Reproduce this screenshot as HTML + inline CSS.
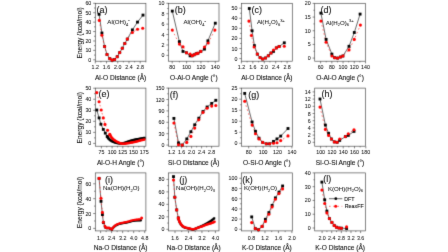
<!DOCTYPE html>
<html><head><meta charset="utf-8"><style>
html,body{margin:0;padding:0;background:#fff;width:448px;height:252px;overflow:hidden}
svg{display:block}
text{font-family:'Liberation Sans', Arial, sans-serif;fill:#111;stroke:#111;stroke-width:0.1px}
</style></head><body>
<svg width="448" height="252" viewBox="0 0 448 252">
<defs><filter id="soft" filterUnits="userSpaceOnUse" x="0" y="0" width="448" height="252" color-interpolation-filters="sRGB"><feConvolveMatrix order="3" kernelMatrix="0.0144 0.0912 0.0144 0.0912 0.5776 0.0912 0.0144 0.0912 0.0144" divisor="1" edgeMode="duplicate"/></filter><filter id="softt" filterUnits="userSpaceOnUse" x="0" y="0" width="448" height="252" color-interpolation-filters="sRGB"><feConvolveMatrix order="3" kernelMatrix="0.0049 0.0602 0.0049 0.0602 0.7396 0.0602 0.0049 0.0602 0.0049" divisor="1" edgeMode="none" preserveAlpha="false"/></filter></defs>
<rect width="448" height="252" fill="#fff"/>
<g filter="url(#soft)"><rect width="448" height="252" fill="#fff"/>
<rect x="95.3" y="3.3" width="50.60" height="57.90" fill="none" stroke="#444" stroke-width="0.65"/>
<line x1="95.30" y1="61.2" x2="95.30" y2="63.40" stroke="#444" stroke-width="0.65"/>
<line x1="106.53" y1="61.2" x2="106.53" y2="63.40" stroke="#444" stroke-width="0.65"/>
<line x1="117.75" y1="61.2" x2="117.75" y2="63.40" stroke="#444" stroke-width="0.65"/>
<line x1="128.97" y1="61.2" x2="128.97" y2="63.40" stroke="#444" stroke-width="0.65"/>
<line x1="140.20" y1="61.2" x2="140.20" y2="63.40" stroke="#444" stroke-width="0.65"/>
<line x1="100.91" y1="61.2" x2="100.91" y2="62.40" stroke="#444" stroke-width="0.65"/>
<line x1="112.14" y1="61.2" x2="112.14" y2="62.40" stroke="#444" stroke-width="0.65"/>
<line x1="123.36" y1="61.2" x2="123.36" y2="62.40" stroke="#444" stroke-width="0.65"/>
<line x1="134.59" y1="61.2" x2="134.59" y2="62.40" stroke="#444" stroke-width="0.65"/>
<line x1="145.81" y1="61.2" x2="145.81" y2="62.40" stroke="#444" stroke-width="0.65"/>
<line x1="93.20" y1="59.80" x2="95.3" y2="59.80" stroke="#444" stroke-width="0.65"/>
<line x1="93.20" y1="50.38" x2="95.3" y2="50.38" stroke="#444" stroke-width="0.65"/>
<line x1="93.20" y1="40.97" x2="95.3" y2="40.97" stroke="#444" stroke-width="0.65"/>
<line x1="93.20" y1="31.55" x2="95.3" y2="31.55" stroke="#444" stroke-width="0.65"/>
<line x1="93.20" y1="22.13" x2="95.3" y2="22.13" stroke="#444" stroke-width="0.65"/>
<line x1="93.20" y1="12.72" x2="95.3" y2="12.72" stroke="#444" stroke-width="0.65"/>
<line x1="93.20" y1="3.30" x2="95.3" y2="3.30" stroke="#444" stroke-width="0.65"/>
<line x1="94.00" y1="55.09" x2="95.3" y2="55.09" stroke="#444" stroke-width="0.65"/>
<line x1="94.00" y1="45.67" x2="95.3" y2="45.67" stroke="#444" stroke-width="0.65"/>
<line x1="94.00" y1="36.26" x2="95.3" y2="36.26" stroke="#444" stroke-width="0.65"/>
<line x1="94.00" y1="26.84" x2="95.3" y2="26.84" stroke="#444" stroke-width="0.65"/>
<line x1="94.00" y1="17.42" x2="95.3" y2="17.42" stroke="#444" stroke-width="0.65"/>
<line x1="94.00" y1="8.01" x2="95.3" y2="8.01" stroke="#444" stroke-width="0.65"/>
<polyline points="99.10,14.30 101.90,33.00 104.60,46.50 107.00,54.50 109.80,58.60 112.10,60.10 114.60,59.50 117.20,56.70 119.70,52.60 122.30,48.20 124.80,43.50 127.30,39.10 132.40,29.90 137.50,22.10 143.00,15.10" fill="none" stroke="#000" stroke-width="0.6"/>
<polyline points="99.30,20.40 101.90,35.30 104.60,46.50 107.00,54.50 109.80,58.60 112.10,60.10 114.60,59.50 117.20,56.70 119.70,52.60 122.30,48.20 124.80,43.50 127.30,39.10 132.40,32.50 137.50,29.30 142.70,28.30" fill="none" stroke="#f22" stroke-width="0.65" stroke-dasharray="1.6,2.6"/>
<rect x="97.67" y="12.88" width="2.85" height="2.85" fill="#000"/>
<rect x="100.48" y="31.57" width="2.85" height="2.85" fill="#000"/>
<rect x="103.17" y="45.08" width="2.85" height="2.85" fill="#000"/>
<rect x="105.58" y="53.08" width="2.85" height="2.85" fill="#000"/>
<rect x="108.38" y="57.18" width="2.85" height="2.85" fill="#000"/>
<rect x="110.67" y="58.68" width="2.85" height="2.85" fill="#000"/>
<rect x="113.17" y="58.08" width="2.85" height="2.85" fill="#000"/>
<rect x="115.78" y="55.28" width="2.85" height="2.85" fill="#000"/>
<rect x="118.28" y="51.18" width="2.85" height="2.85" fill="#000"/>
<rect x="120.88" y="46.78" width="2.85" height="2.85" fill="#000"/>
<rect x="123.38" y="42.08" width="2.85" height="2.85" fill="#000"/>
<rect x="125.88" y="37.68" width="2.85" height="2.85" fill="#000"/>
<rect x="130.97" y="28.47" width="2.85" height="2.85" fill="#000"/>
<rect x="136.07" y="20.68" width="2.85" height="2.85" fill="#000"/>
<rect x="141.57" y="13.67" width="2.85" height="2.85" fill="#000"/>
<circle cx="99.30" cy="20.40" r="1.55" fill="#f00"/>
<circle cx="101.90" cy="35.30" r="1.55" fill="#f00"/>
<circle cx="104.60" cy="46.50" r="1.55" fill="#f00"/>
<circle cx="107.00" cy="54.50" r="1.55" fill="#f00"/>
<circle cx="109.80" cy="58.60" r="1.55" fill="#f00"/>
<circle cx="112.10" cy="60.10" r="1.55" fill="#f00"/>
<circle cx="114.60" cy="59.50" r="1.55" fill="#f00"/>
<circle cx="117.20" cy="56.70" r="1.55" fill="#f00"/>
<circle cx="119.70" cy="52.60" r="1.55" fill="#f00"/>
<circle cx="122.30" cy="48.20" r="1.55" fill="#f00"/>
<circle cx="124.80" cy="43.50" r="1.55" fill="#f00"/>
<circle cx="127.30" cy="39.10" r="1.55" fill="#f00"/>
<circle cx="132.40" cy="32.50" r="1.55" fill="#f00"/>
<circle cx="137.50" cy="29.30" r="1.55" fill="#f00"/>
<circle cx="142.70" cy="28.30" r="1.55" fill="#f00"/>
<rect x="168.5" y="3.3" width="50.50" height="57.90" fill="none" stroke="#444" stroke-width="0.65"/>
<line x1="172.20" y1="61.2" x2="172.20" y2="63.40" stroke="#444" stroke-width="0.65"/>
<line x1="186.57" y1="61.2" x2="186.57" y2="63.40" stroke="#444" stroke-width="0.65"/>
<line x1="200.93" y1="61.2" x2="200.93" y2="63.40" stroke="#444" stroke-width="0.65"/>
<line x1="215.30" y1="61.2" x2="215.30" y2="63.40" stroke="#444" stroke-width="0.65"/>
<line x1="179.38" y1="61.2" x2="179.38" y2="62.40" stroke="#444" stroke-width="0.65"/>
<line x1="193.75" y1="61.2" x2="193.75" y2="62.40" stroke="#444" stroke-width="0.65"/>
<line x1="208.12" y1="61.2" x2="208.12" y2="62.40" stroke="#444" stroke-width="0.65"/>
<line x1="166.40" y1="55.40" x2="168.5" y2="55.40" stroke="#444" stroke-width="0.65"/>
<line x1="166.40" y1="44.98" x2="168.5" y2="44.98" stroke="#444" stroke-width="0.65"/>
<line x1="166.40" y1="34.56" x2="168.5" y2="34.56" stroke="#444" stroke-width="0.65"/>
<line x1="166.40" y1="24.14" x2="168.5" y2="24.14" stroke="#444" stroke-width="0.65"/>
<line x1="166.40" y1="13.72" x2="168.5" y2="13.72" stroke="#444" stroke-width="0.65"/>
<line x1="166.40" y1="3.30" x2="168.5" y2="3.30" stroke="#444" stroke-width="0.65"/>
<line x1="167.20" y1="50.19" x2="168.5" y2="50.19" stroke="#444" stroke-width="0.65"/>
<line x1="167.20" y1="39.77" x2="168.5" y2="39.77" stroke="#444" stroke-width="0.65"/>
<line x1="167.20" y1="29.35" x2="168.5" y2="29.35" stroke="#444" stroke-width="0.65"/>
<line x1="167.20" y1="18.93" x2="168.5" y2="18.93" stroke="#444" stroke-width="0.65"/>
<line x1="167.20" y1="8.51" x2="168.5" y2="8.51" stroke="#444" stroke-width="0.65"/>
<polyline points="172.30,11.10 179.40,41.60 183.00,51.40 186.50,52.80 190.10,55.80 192.10,55.80 194.10,54.80 196.20,53.70 197.90,53.20 200.80,51.40 204.50,49.10 207.90,40.80 215.30,23.20" fill="none" stroke="#000" stroke-width="0.6"/>
<polyline points="172.30,30.10 179.40,44.10 183.00,46.70 186.50,52.80 190.10,54.10 192.10,55.80 194.10,54.80 196.20,53.70 197.90,53.20 200.80,51.40 204.50,47.00 208.20,43.00 214.90,30.10" fill="none" stroke="#f22" stroke-width="0.65" stroke-dasharray="1.6,2.6"/>
<rect x="170.88" y="9.67" width="2.85" height="2.85" fill="#000"/>
<rect x="177.97" y="40.18" width="2.85" height="2.85" fill="#000"/>
<rect x="181.57" y="49.98" width="2.85" height="2.85" fill="#000"/>
<rect x="185.07" y="51.38" width="2.85" height="2.85" fill="#000"/>
<rect x="188.67" y="54.38" width="2.85" height="2.85" fill="#000"/>
<rect x="190.67" y="54.38" width="2.85" height="2.85" fill="#000"/>
<rect x="192.67" y="53.38" width="2.85" height="2.85" fill="#000"/>
<rect x="194.77" y="52.28" width="2.85" height="2.85" fill="#000"/>
<rect x="196.47" y="51.78" width="2.85" height="2.85" fill="#000"/>
<rect x="199.38" y="49.98" width="2.85" height="2.85" fill="#000"/>
<rect x="203.07" y="47.68" width="2.85" height="2.85" fill="#000"/>
<rect x="206.47" y="39.38" width="2.85" height="2.85" fill="#000"/>
<rect x="213.88" y="21.77" width="2.85" height="2.85" fill="#000"/>
<circle cx="172.30" cy="30.10" r="1.55" fill="#f00"/>
<circle cx="179.40" cy="44.10" r="1.55" fill="#f00"/>
<circle cx="183.00" cy="46.70" r="1.55" fill="#f00"/>
<circle cx="186.50" cy="52.80" r="1.55" fill="#f00"/>
<circle cx="190.10" cy="54.10" r="1.55" fill="#f00"/>
<circle cx="192.10" cy="55.80" r="1.55" fill="#f00"/>
<circle cx="194.10" cy="54.80" r="1.55" fill="#f00"/>
<circle cx="196.20" cy="53.70" r="1.55" fill="#f00"/>
<circle cx="197.90" cy="53.20" r="1.55" fill="#f00"/>
<circle cx="200.80" cy="51.40" r="1.55" fill="#f00"/>
<circle cx="204.50" cy="47.00" r="1.55" fill="#f00"/>
<circle cx="208.20" cy="43.00" r="1.55" fill="#f00"/>
<circle cx="214.90" cy="30.10" r="1.55" fill="#f00"/>
<rect x="241.4" y="3.3" width="50.90" height="57.90" fill="none" stroke="#444" stroke-width="0.65"/>
<line x1="241.40" y1="61.2" x2="241.40" y2="63.40" stroke="#444" stroke-width="0.65"/>
<line x1="252.83" y1="61.2" x2="252.83" y2="63.40" stroke="#444" stroke-width="0.65"/>
<line x1="264.25" y1="61.2" x2="264.25" y2="63.40" stroke="#444" stroke-width="0.65"/>
<line x1="275.68" y1="61.2" x2="275.68" y2="63.40" stroke="#444" stroke-width="0.65"/>
<line x1="287.10" y1="61.2" x2="287.10" y2="63.40" stroke="#444" stroke-width="0.65"/>
<line x1="247.11" y1="61.2" x2="247.11" y2="62.40" stroke="#444" stroke-width="0.65"/>
<line x1="258.54" y1="61.2" x2="258.54" y2="62.40" stroke="#444" stroke-width="0.65"/>
<line x1="269.96" y1="61.2" x2="269.96" y2="62.40" stroke="#444" stroke-width="0.65"/>
<line x1="281.39" y1="61.2" x2="281.39" y2="62.40" stroke="#444" stroke-width="0.65"/>
<line x1="239.30" y1="58.60" x2="241.4" y2="58.60" stroke="#444" stroke-width="0.65"/>
<line x1="239.30" y1="48.52" x2="241.4" y2="48.52" stroke="#444" stroke-width="0.65"/>
<line x1="239.30" y1="38.44" x2="241.4" y2="38.44" stroke="#444" stroke-width="0.65"/>
<line x1="239.30" y1="28.36" x2="241.4" y2="28.36" stroke="#444" stroke-width="0.65"/>
<line x1="239.30" y1="18.28" x2="241.4" y2="18.28" stroke="#444" stroke-width="0.65"/>
<line x1="239.30" y1="8.20" x2="241.4" y2="8.20" stroke="#444" stroke-width="0.65"/>
<line x1="240.10" y1="53.56" x2="241.4" y2="53.56" stroke="#444" stroke-width="0.65"/>
<line x1="240.10" y1="43.48" x2="241.4" y2="43.48" stroke="#444" stroke-width="0.65"/>
<line x1="240.10" y1="33.40" x2="241.4" y2="33.40" stroke="#444" stroke-width="0.65"/>
<line x1="240.10" y1="23.32" x2="241.4" y2="23.32" stroke="#444" stroke-width="0.65"/>
<line x1="240.10" y1="13.24" x2="241.4" y2="13.24" stroke="#444" stroke-width="0.65"/>
<polyline points="249.30,8.50 252.10,30.80 254.40,45.60 257.30,54.10 260.10,57.60 262.70,59.00 265.50,58.00 268.30,55.80 271.00,53.00 273.50,51.40 276.30,47.90 279.10,46.50 284.30,42.80" fill="none" stroke="#000" stroke-width="0.6"/>
<polyline points="248.90,21.10 251.40,35.50 254.10,47.00 257.30,54.10 260.10,57.60 262.70,59.00 265.50,58.00 268.30,55.80 271.00,53.00 273.50,50.00 276.30,47.90 279.10,46.50 284.30,46.30" fill="none" stroke="#f22" stroke-width="0.65" stroke-dasharray="1.6,2.6"/>
<rect x="247.88" y="7.08" width="2.85" height="2.85" fill="#000"/>
<rect x="250.67" y="29.38" width="2.85" height="2.85" fill="#000"/>
<rect x="252.97" y="44.18" width="2.85" height="2.85" fill="#000"/>
<rect x="255.88" y="52.68" width="2.85" height="2.85" fill="#000"/>
<rect x="258.68" y="56.18" width="2.85" height="2.85" fill="#000"/>
<rect x="261.27" y="57.58" width="2.85" height="2.85" fill="#000"/>
<rect x="264.07" y="56.58" width="2.85" height="2.85" fill="#000"/>
<rect x="266.88" y="54.38" width="2.85" height="2.85" fill="#000"/>
<rect x="269.57" y="51.58" width="2.85" height="2.85" fill="#000"/>
<rect x="272.07" y="49.98" width="2.85" height="2.85" fill="#000"/>
<rect x="274.88" y="46.48" width="2.85" height="2.85" fill="#000"/>
<rect x="277.68" y="45.08" width="2.85" height="2.85" fill="#000"/>
<rect x="282.88" y="41.38" width="2.85" height="2.85" fill="#000"/>
<circle cx="248.90" cy="21.10" r="1.55" fill="#f00"/>
<circle cx="251.40" cy="35.50" r="1.55" fill="#f00"/>
<circle cx="254.10" cy="47.00" r="1.55" fill="#f00"/>
<circle cx="257.30" cy="54.10" r="1.55" fill="#f00"/>
<circle cx="260.10" cy="57.60" r="1.55" fill="#f00"/>
<circle cx="262.70" cy="59.00" r="1.55" fill="#f00"/>
<circle cx="265.50" cy="58.00" r="1.55" fill="#f00"/>
<circle cx="268.30" cy="55.80" r="1.55" fill="#f00"/>
<circle cx="271.00" cy="53.00" r="1.55" fill="#f00"/>
<circle cx="273.50" cy="50.00" r="1.55" fill="#f00"/>
<circle cx="276.30" cy="47.90" r="1.55" fill="#f00"/>
<circle cx="279.10" cy="46.50" r="1.55" fill="#f00"/>
<circle cx="284.30" cy="46.30" r="1.55" fill="#f00"/>
<rect x="314.7" y="3.3" width="50.80" height="57.90" fill="none" stroke="#444" stroke-width="0.65"/>
<line x1="320.60" y1="61.2" x2="320.60" y2="63.40" stroke="#444" stroke-width="0.65"/>
<line x1="331.83" y1="61.2" x2="331.83" y2="63.40" stroke="#444" stroke-width="0.65"/>
<line x1="343.05" y1="61.2" x2="343.05" y2="63.40" stroke="#444" stroke-width="0.65"/>
<line x1="354.27" y1="61.2" x2="354.27" y2="63.40" stroke="#444" stroke-width="0.65"/>
<line x1="365.50" y1="61.2" x2="365.50" y2="63.40" stroke="#444" stroke-width="0.65"/>
<line x1="326.21" y1="61.2" x2="326.21" y2="62.40" stroke="#444" stroke-width="0.65"/>
<line x1="337.44" y1="61.2" x2="337.44" y2="62.40" stroke="#444" stroke-width="0.65"/>
<line x1="348.66" y1="61.2" x2="348.66" y2="62.40" stroke="#444" stroke-width="0.65"/>
<line x1="359.89" y1="61.2" x2="359.89" y2="62.40" stroke="#444" stroke-width="0.65"/>
<line x1="312.60" y1="58.10" x2="314.7" y2="58.10" stroke="#444" stroke-width="0.65"/>
<line x1="312.60" y1="44.42" x2="314.7" y2="44.42" stroke="#444" stroke-width="0.65"/>
<line x1="312.60" y1="30.75" x2="314.7" y2="30.75" stroke="#444" stroke-width="0.65"/>
<line x1="312.60" y1="17.07" x2="314.7" y2="17.07" stroke="#444" stroke-width="0.65"/>
<line x1="312.60" y1="3.40" x2="314.7" y2="3.40" stroke="#444" stroke-width="0.65"/>
<line x1="313.40" y1="51.26" x2="314.7" y2="51.26" stroke="#444" stroke-width="0.65"/>
<line x1="313.40" y1="37.59" x2="314.7" y2="37.59" stroke="#444" stroke-width="0.65"/>
<line x1="313.40" y1="23.91" x2="314.7" y2="23.91" stroke="#444" stroke-width="0.65"/>
<line x1="313.40" y1="10.24" x2="314.7" y2="10.24" stroke="#444" stroke-width="0.65"/>
<polyline points="320.90,13.10 326.10,39.40 331.90,54.10 334.70,57.70 337.60,58.10 340.40,57.00 342.90,56.00 349.00,46.30 354.30,32.50 360.10,14.10" fill="none" stroke="#000" stroke-width="0.6"/>
<polyline points="320.90,21.00 326.10,42.30 331.90,56.00 334.70,57.70 337.60,58.10 340.40,57.00 342.90,56.00 349.00,49.90 354.30,39.40 360.40,25.10" fill="none" stroke="#f22" stroke-width="0.65" stroke-dasharray="1.6,2.6"/>
<rect x="319.47" y="11.67" width="2.85" height="2.85" fill="#000"/>
<rect x="324.68" y="37.98" width="2.85" height="2.85" fill="#000"/>
<rect x="330.47" y="52.68" width="2.85" height="2.85" fill="#000"/>
<rect x="333.27" y="56.28" width="2.85" height="2.85" fill="#000"/>
<rect x="336.18" y="56.68" width="2.85" height="2.85" fill="#000"/>
<rect x="338.97" y="55.58" width="2.85" height="2.85" fill="#000"/>
<rect x="341.47" y="54.58" width="2.85" height="2.85" fill="#000"/>
<rect x="347.57" y="44.88" width="2.85" height="2.85" fill="#000"/>
<rect x="352.88" y="31.07" width="2.85" height="2.85" fill="#000"/>
<rect x="358.68" y="12.67" width="2.85" height="2.85" fill="#000"/>
<circle cx="320.90" cy="21.00" r="1.55" fill="#f00"/>
<circle cx="326.10" cy="42.30" r="1.55" fill="#f00"/>
<circle cx="331.90" cy="56.00" r="1.55" fill="#f00"/>
<circle cx="334.70" cy="57.70" r="1.55" fill="#f00"/>
<circle cx="337.60" cy="58.10" r="1.55" fill="#f00"/>
<circle cx="340.40" cy="57.00" r="1.55" fill="#f00"/>
<circle cx="342.90" cy="56.00" r="1.55" fill="#f00"/>
<circle cx="349.00" cy="49.90" r="1.55" fill="#f00"/>
<circle cx="354.30" cy="39.40" r="1.55" fill="#f00"/>
<circle cx="360.40" cy="25.10" r="1.55" fill="#f00"/>
<rect x="95.3" y="88.1" width="50.60" height="58.10" fill="none" stroke="#444" stroke-width="0.65"/>
<line x1="101.40" y1="146.2" x2="101.40" y2="148.40" stroke="#444" stroke-width="0.65"/>
<line x1="112.10" y1="146.2" x2="112.10" y2="148.40" stroke="#444" stroke-width="0.65"/>
<line x1="122.80" y1="146.2" x2="122.80" y2="148.40" stroke="#444" stroke-width="0.65"/>
<line x1="133.50" y1="146.2" x2="133.50" y2="148.40" stroke="#444" stroke-width="0.65"/>
<line x1="144.20" y1="146.2" x2="144.20" y2="148.40" stroke="#444" stroke-width="0.65"/>
<line x1="106.75" y1="146.2" x2="106.75" y2="147.40" stroke="#444" stroke-width="0.65"/>
<line x1="117.45" y1="146.2" x2="117.45" y2="147.40" stroke="#444" stroke-width="0.65"/>
<line x1="128.15" y1="146.2" x2="128.15" y2="147.40" stroke="#444" stroke-width="0.65"/>
<line x1="138.85" y1="146.2" x2="138.85" y2="147.40" stroke="#444" stroke-width="0.65"/>
<line x1="93.20" y1="143.40" x2="95.3" y2="143.40" stroke="#444" stroke-width="0.65"/>
<line x1="93.20" y1="132.36" x2="95.3" y2="132.36" stroke="#444" stroke-width="0.65"/>
<line x1="93.20" y1="121.32" x2="95.3" y2="121.32" stroke="#444" stroke-width="0.65"/>
<line x1="93.20" y1="110.28" x2="95.3" y2="110.28" stroke="#444" stroke-width="0.65"/>
<line x1="93.20" y1="99.24" x2="95.3" y2="99.24" stroke="#444" stroke-width="0.65"/>
<line x1="93.20" y1="88.20" x2="95.3" y2="88.20" stroke="#444" stroke-width="0.65"/>
<line x1="94.00" y1="137.88" x2="95.3" y2="137.88" stroke="#444" stroke-width="0.65"/>
<line x1="94.00" y1="126.84" x2="95.3" y2="126.84" stroke="#444" stroke-width="0.65"/>
<line x1="94.00" y1="115.80" x2="95.3" y2="115.80" stroke="#444" stroke-width="0.65"/>
<line x1="94.00" y1="104.76" x2="95.3" y2="104.76" stroke="#444" stroke-width="0.65"/>
<line x1="94.00" y1="93.72" x2="95.3" y2="93.72" stroke="#444" stroke-width="0.65"/>
<polyline points="96.80,110.00 99.10,117.90 100.90,124.20 103.30,129.40 105.30,133.10 107.20,136.40 107.20,136.40 107.64,137.25 108.16,138.03 108.75,138.75 109.42,139.40 110.14,140.00 110.91,140.55 111.72,141.04 112.57,141.47 113.43,141.85 114.31,142.19 115.20,142.48 116.10,142.73 117.01,142.94 117.94,143.13 118.87,143.28 119.81,143.39 120.75,143.45 121.68,143.44 122.61,143.35 123.52,143.19 124.43,142.96 125.33,142.68 126.22,142.38 127.11,142.05 128.00,141.73 128.89,141.42 129.78,141.12 130.67,140.83 131.57,140.56 132.47,140.31 133.37,140.08 134.28,139.87 135.20,139.68 136.12,139.50 137.04,139.33 137.96,139.16 138.89,139.00 139.81,138.84 140.74,138.67 141.66,138.50 142.58,138.32 143.49,138.12 144.40,137.90" fill="none" stroke="#000" stroke-width="0.6"/>
<polyline points="96.80,92.60 99.10,101.70 101.20,110.00 103.30,117.90 105.00,124.40 107.60,130.20 109.80,134.40 109.80,134.40 110.17,135.25 110.60,136.05 111.08,136.80 111.62,137.51 112.21,138.17 112.84,138.80 113.51,139.40 114.22,139.96 114.95,140.49 115.71,141.00 116.50,141.48 117.30,141.94 118.11,142.37 118.94,142.76 119.78,143.10 120.63,143.38 121.50,143.59 122.37,143.72 123.26,143.76 124.15,143.73 125.05,143.65 125.95,143.52 126.85,143.37 127.75,143.21 128.65,143.05 129.53,142.89 130.42,142.74 131.30,142.58 132.18,142.42 133.06,142.25 133.94,142.07 134.82,141.88 135.70,141.68 136.57,141.48 137.45,141.27 138.32,141.05 139.20,140.82 140.07,140.59 140.94,140.36 141.81,140.12 142.67,139.88 143.54,139.64 144.40,139.40" fill="none" stroke="#f22" stroke-width="0.65" stroke-dasharray="1.6,2.6"/>
<rect x="95.38" y="108.58" width="2.85" height="2.85" fill="#000"/>
<rect x="97.67" y="116.48" width="2.85" height="2.85" fill="#000"/>
<rect x="99.48" y="122.78" width="2.85" height="2.85" fill="#000"/>
<rect x="101.88" y="127.98" width="2.85" height="2.85" fill="#000"/>
<rect x="103.88" y="131.67" width="2.85" height="2.85" fill="#000"/>
<rect x="105.78" y="134.97" width="2.85" height="2.85" fill="#000"/>
<rect x="106.05" y="135.25" width="2.30" height="2.30" fill="#000"/>
<rect x="106.49" y="136.10" width="2.30" height="2.30" fill="#000"/>
<rect x="107.01" y="136.88" width="2.30" height="2.30" fill="#000"/>
<rect x="107.60" y="137.60" width="2.30" height="2.30" fill="#000"/>
<rect x="108.27" y="138.25" width="2.30" height="2.30" fill="#000"/>
<rect x="108.99" y="138.85" width="2.30" height="2.30" fill="#000"/>
<rect x="109.76" y="139.40" width="2.30" height="2.30" fill="#000"/>
<rect x="110.57" y="139.89" width="2.30" height="2.30" fill="#000"/>
<rect x="111.42" y="140.32" width="2.30" height="2.30" fill="#000"/>
<rect x="112.28" y="140.70" width="2.30" height="2.30" fill="#000"/>
<rect x="113.16" y="141.04" width="2.30" height="2.30" fill="#000"/>
<rect x="114.05" y="141.33" width="2.30" height="2.30" fill="#000"/>
<rect x="114.95" y="141.58" width="2.30" height="2.30" fill="#000"/>
<rect x="115.86" y="141.79" width="2.30" height="2.30" fill="#000"/>
<rect x="116.79" y="141.98" width="2.30" height="2.30" fill="#000"/>
<rect x="117.72" y="142.13" width="2.30" height="2.30" fill="#000"/>
<rect x="118.66" y="142.24" width="2.30" height="2.30" fill="#000"/>
<rect x="119.60" y="142.30" width="2.30" height="2.30" fill="#000"/>
<rect x="120.53" y="142.29" width="2.30" height="2.30" fill="#000"/>
<rect x="121.46" y="142.20" width="2.30" height="2.30" fill="#000"/>
<rect x="122.37" y="142.04" width="2.30" height="2.30" fill="#000"/>
<rect x="123.28" y="141.81" width="2.30" height="2.30" fill="#000"/>
<rect x="124.18" y="141.53" width="2.30" height="2.30" fill="#000"/>
<rect x="125.07" y="141.23" width="2.30" height="2.30" fill="#000"/>
<rect x="125.96" y="140.90" width="2.30" height="2.30" fill="#000"/>
<rect x="126.85" y="140.58" width="2.30" height="2.30" fill="#000"/>
<rect x="127.74" y="140.27" width="2.30" height="2.30" fill="#000"/>
<rect x="128.63" y="139.97" width="2.30" height="2.30" fill="#000"/>
<rect x="129.52" y="139.68" width="2.30" height="2.30" fill="#000"/>
<rect x="130.42" y="139.41" width="2.30" height="2.30" fill="#000"/>
<rect x="131.32" y="139.16" width="2.30" height="2.30" fill="#000"/>
<rect x="132.22" y="138.93" width="2.30" height="2.30" fill="#000"/>
<rect x="133.13" y="138.72" width="2.30" height="2.30" fill="#000"/>
<rect x="134.05" y="138.53" width="2.30" height="2.30" fill="#000"/>
<rect x="134.97" y="138.35" width="2.30" height="2.30" fill="#000"/>
<rect x="135.89" y="138.18" width="2.30" height="2.30" fill="#000"/>
<rect x="136.81" y="138.01" width="2.30" height="2.30" fill="#000"/>
<rect x="137.74" y="137.85" width="2.30" height="2.30" fill="#000"/>
<rect x="138.66" y="137.69" width="2.30" height="2.30" fill="#000"/>
<rect x="139.59" y="137.52" width="2.30" height="2.30" fill="#000"/>
<rect x="140.51" y="137.35" width="2.30" height="2.30" fill="#000"/>
<rect x="141.43" y="137.17" width="2.30" height="2.30" fill="#000"/>
<rect x="142.34" y="136.97" width="2.30" height="2.30" fill="#000"/>
<rect x="143.25" y="136.75" width="2.30" height="2.30" fill="#000"/>
<circle cx="96.80" cy="92.60" r="1.55" fill="#f00"/>
<circle cx="99.10" cy="101.70" r="1.55" fill="#f00"/>
<circle cx="101.20" cy="110.00" r="1.55" fill="#f00"/>
<circle cx="103.30" cy="117.90" r="1.55" fill="#f00"/>
<circle cx="105.00" cy="124.40" r="1.55" fill="#f00"/>
<circle cx="107.60" cy="130.20" r="1.55" fill="#f00"/>
<circle cx="109.80" cy="134.40" r="1.55" fill="#f00"/>
<circle cx="109.80" cy="134.40" r="1.25" fill="#f00"/>
<circle cx="110.17" cy="135.25" r="1.25" fill="#f00"/>
<circle cx="110.60" cy="136.05" r="1.25" fill="#f00"/>
<circle cx="111.08" cy="136.80" r="1.25" fill="#f00"/>
<circle cx="111.62" cy="137.51" r="1.25" fill="#f00"/>
<circle cx="112.21" cy="138.17" r="1.25" fill="#f00"/>
<circle cx="112.84" cy="138.80" r="1.25" fill="#f00"/>
<circle cx="113.51" cy="139.40" r="1.25" fill="#f00"/>
<circle cx="114.22" cy="139.96" r="1.25" fill="#f00"/>
<circle cx="114.95" cy="140.49" r="1.25" fill="#f00"/>
<circle cx="115.71" cy="141.00" r="1.25" fill="#f00"/>
<circle cx="116.50" cy="141.48" r="1.25" fill="#f00"/>
<circle cx="117.30" cy="141.94" r="1.25" fill="#f00"/>
<circle cx="118.11" cy="142.37" r="1.25" fill="#f00"/>
<circle cx="118.94" cy="142.76" r="1.25" fill="#f00"/>
<circle cx="119.78" cy="143.10" r="1.25" fill="#f00"/>
<circle cx="120.63" cy="143.38" r="1.25" fill="#f00"/>
<circle cx="121.50" cy="143.59" r="1.25" fill="#f00"/>
<circle cx="122.37" cy="143.72" r="1.25" fill="#f00"/>
<circle cx="123.26" cy="143.76" r="1.25" fill="#f00"/>
<circle cx="124.15" cy="143.73" r="1.25" fill="#f00"/>
<circle cx="125.05" cy="143.65" r="1.25" fill="#f00"/>
<circle cx="125.95" cy="143.52" r="1.25" fill="#f00"/>
<circle cx="126.85" cy="143.37" r="1.25" fill="#f00"/>
<circle cx="127.75" cy="143.21" r="1.25" fill="#f00"/>
<circle cx="128.65" cy="143.05" r="1.25" fill="#f00"/>
<circle cx="129.53" cy="142.89" r="1.25" fill="#f00"/>
<circle cx="130.42" cy="142.74" r="1.25" fill="#f00"/>
<circle cx="131.30" cy="142.58" r="1.25" fill="#f00"/>
<circle cx="132.18" cy="142.42" r="1.25" fill="#f00"/>
<circle cx="133.06" cy="142.25" r="1.25" fill="#f00"/>
<circle cx="133.94" cy="142.07" r="1.25" fill="#f00"/>
<circle cx="134.82" cy="141.88" r="1.25" fill="#f00"/>
<circle cx="135.70" cy="141.68" r="1.25" fill="#f00"/>
<circle cx="136.57" cy="141.48" r="1.25" fill="#f00"/>
<circle cx="137.45" cy="141.27" r="1.25" fill="#f00"/>
<circle cx="138.32" cy="141.05" r="1.25" fill="#f00"/>
<circle cx="139.20" cy="140.82" r="1.25" fill="#f00"/>
<circle cx="140.07" cy="140.59" r="1.25" fill="#f00"/>
<circle cx="140.94" cy="140.36" r="1.25" fill="#f00"/>
<circle cx="141.81" cy="140.12" r="1.25" fill="#f00"/>
<circle cx="142.67" cy="139.88" r="1.25" fill="#f00"/>
<circle cx="143.54" cy="139.64" r="1.25" fill="#f00"/>
<circle cx="144.40" cy="139.40" r="1.25" fill="#f00"/>
<rect x="168.5" y="88.1" width="50.50" height="58.10" fill="none" stroke="#444" stroke-width="0.65"/>
<line x1="171.60" y1="146.2" x2="171.60" y2="148.40" stroke="#444" stroke-width="0.65"/>
<line x1="181.60" y1="146.2" x2="181.60" y2="148.40" stroke="#444" stroke-width="0.65"/>
<line x1="191.60" y1="146.2" x2="191.60" y2="148.40" stroke="#444" stroke-width="0.65"/>
<line x1="201.60" y1="146.2" x2="201.60" y2="148.40" stroke="#444" stroke-width="0.65"/>
<line x1="211.60" y1="146.2" x2="211.60" y2="148.40" stroke="#444" stroke-width="0.65"/>
<line x1="176.60" y1="146.2" x2="176.60" y2="147.40" stroke="#444" stroke-width="0.65"/>
<line x1="186.60" y1="146.2" x2="186.60" y2="147.40" stroke="#444" stroke-width="0.65"/>
<line x1="196.60" y1="146.2" x2="196.60" y2="147.40" stroke="#444" stroke-width="0.65"/>
<line x1="206.60" y1="146.2" x2="206.60" y2="147.40" stroke="#444" stroke-width="0.65"/>
<line x1="166.40" y1="145.10" x2="168.5" y2="145.10" stroke="#444" stroke-width="0.65"/>
<line x1="166.40" y1="133.70" x2="168.5" y2="133.70" stroke="#444" stroke-width="0.65"/>
<line x1="166.40" y1="122.30" x2="168.5" y2="122.30" stroke="#444" stroke-width="0.65"/>
<line x1="166.40" y1="110.90" x2="168.5" y2="110.90" stroke="#444" stroke-width="0.65"/>
<line x1="166.40" y1="99.50" x2="168.5" y2="99.50" stroke="#444" stroke-width="0.65"/>
<line x1="166.40" y1="88.10" x2="168.5" y2="88.10" stroke="#444" stroke-width="0.65"/>
<line x1="167.20" y1="139.40" x2="168.5" y2="139.40" stroke="#444" stroke-width="0.65"/>
<line x1="167.20" y1="128.00" x2="168.5" y2="128.00" stroke="#444" stroke-width="0.65"/>
<line x1="167.20" y1="116.60" x2="168.5" y2="116.60" stroke="#444" stroke-width="0.65"/>
<line x1="167.20" y1="105.20" x2="168.5" y2="105.20" stroke="#444" stroke-width="0.65"/>
<line x1="167.20" y1="93.80" x2="168.5" y2="93.80" stroke="#444" stroke-width="0.65"/>
<polyline points="173.90,118.40 178.50,142.80 182.20,145.10 186.80,138.90 190.90,131.70 194.70,124.80 198.80,118.20 203.00,111.50 207.10,107.00 211.70,103.40 215.80,100.30" fill="none" stroke="#000" stroke-width="0.6"/>
<polyline points="173.90,123.00 178.50,144.70 182.20,145.10 186.80,142.40 190.90,136.40 194.70,128.10 198.80,119.80 203.00,112.40 207.10,108.20 211.70,106.10 215.80,105.50" fill="none" stroke="#f22" stroke-width="0.65" stroke-dasharray="1.6,2.6"/>
<rect x="172.47" y="116.98" width="2.85" height="2.85" fill="#000"/>
<rect x="177.07" y="141.38" width="2.85" height="2.85" fill="#000"/>
<rect x="180.77" y="143.67" width="2.85" height="2.85" fill="#000"/>
<rect x="185.38" y="137.47" width="2.85" height="2.85" fill="#000"/>
<rect x="189.47" y="130.27" width="2.85" height="2.85" fill="#000"/>
<rect x="193.27" y="123.38" width="2.85" height="2.85" fill="#000"/>
<rect x="197.38" y="116.78" width="2.85" height="2.85" fill="#000"/>
<rect x="201.57" y="110.08" width="2.85" height="2.85" fill="#000"/>
<rect x="205.67" y="105.58" width="2.85" height="2.85" fill="#000"/>
<rect x="210.27" y="101.98" width="2.85" height="2.85" fill="#000"/>
<rect x="214.38" y="98.88" width="2.85" height="2.85" fill="#000"/>
<circle cx="173.90" cy="123.00" r="1.55" fill="#f00"/>
<circle cx="178.50" cy="144.70" r="1.55" fill="#f00"/>
<circle cx="182.20" cy="145.10" r="1.55" fill="#f00"/>
<circle cx="186.80" cy="142.40" r="1.55" fill="#f00"/>
<circle cx="190.90" cy="136.40" r="1.55" fill="#f00"/>
<circle cx="194.70" cy="128.10" r="1.55" fill="#f00"/>
<circle cx="198.80" cy="119.80" r="1.55" fill="#f00"/>
<circle cx="203.00" cy="112.40" r="1.55" fill="#f00"/>
<circle cx="207.10" cy="108.20" r="1.55" fill="#f00"/>
<circle cx="211.70" cy="106.10" r="1.55" fill="#f00"/>
<circle cx="215.80" cy="105.50" r="1.55" fill="#f00"/>
<rect x="241.4" y="88.1" width="50.90" height="58.10" fill="none" stroke="#444" stroke-width="0.65"/>
<line x1="248.70" y1="146.2" x2="248.70" y2="148.40" stroke="#444" stroke-width="0.65"/>
<line x1="263.10" y1="146.2" x2="263.10" y2="148.40" stroke="#444" stroke-width="0.65"/>
<line x1="277.50" y1="146.2" x2="277.50" y2="148.40" stroke="#444" stroke-width="0.65"/>
<line x1="291.90" y1="146.2" x2="291.90" y2="148.40" stroke="#444" stroke-width="0.65"/>
<line x1="255.90" y1="146.2" x2="255.90" y2="147.40" stroke="#444" stroke-width="0.65"/>
<line x1="270.30" y1="146.2" x2="270.30" y2="147.40" stroke="#444" stroke-width="0.65"/>
<line x1="284.70" y1="146.2" x2="284.70" y2="147.40" stroke="#444" stroke-width="0.65"/>
<line x1="239.30" y1="143.30" x2="241.4" y2="143.30" stroke="#444" stroke-width="0.65"/>
<line x1="239.30" y1="132.28" x2="241.4" y2="132.28" stroke="#444" stroke-width="0.65"/>
<line x1="239.30" y1="121.26" x2="241.4" y2="121.26" stroke="#444" stroke-width="0.65"/>
<line x1="239.30" y1="110.24" x2="241.4" y2="110.24" stroke="#444" stroke-width="0.65"/>
<line x1="239.30" y1="99.22" x2="241.4" y2="99.22" stroke="#444" stroke-width="0.65"/>
<line x1="239.30" y1="88.20" x2="241.4" y2="88.20" stroke="#444" stroke-width="0.65"/>
<line x1="240.10" y1="137.79" x2="241.4" y2="137.79" stroke="#444" stroke-width="0.65"/>
<line x1="240.10" y1="126.77" x2="241.4" y2="126.77" stroke="#444" stroke-width="0.65"/>
<line x1="240.10" y1="115.75" x2="241.4" y2="115.75" stroke="#444" stroke-width="0.65"/>
<line x1="240.10" y1="104.73" x2="241.4" y2="104.73" stroke="#444" stroke-width="0.65"/>
<line x1="240.10" y1="93.71" x2="241.4" y2="93.71" stroke="#444" stroke-width="0.65"/>
<polyline points="244.70,93.40 252.10,122.00 255.50,131.30 259.00,138.20 262.70,142.40 266.30,143.80 269.60,143.80 273.50,141.40 277.00,138.90 280.70,136.10 288.00,128.50" fill="none" stroke="#000" stroke-width="0.6"/>
<polyline points="244.70,101.30 252.10,125.10 255.50,133.70 259.00,138.90 262.70,142.40 266.30,143.80 269.60,143.80 273.50,143.30 277.00,142.80 280.70,140.60 288.00,135.90" fill="none" stroke="#f22" stroke-width="0.65" stroke-dasharray="1.6,2.6"/>
<rect x="243.27" y="91.98" width="2.85" height="2.85" fill="#000"/>
<rect x="250.67" y="120.58" width="2.85" height="2.85" fill="#000"/>
<rect x="254.07" y="129.88" width="2.85" height="2.85" fill="#000"/>
<rect x="257.57" y="136.77" width="2.85" height="2.85" fill="#000"/>
<rect x="261.27" y="140.97" width="2.85" height="2.85" fill="#000"/>
<rect x="264.88" y="142.38" width="2.85" height="2.85" fill="#000"/>
<rect x="268.18" y="142.38" width="2.85" height="2.85" fill="#000"/>
<rect x="272.07" y="139.97" width="2.85" height="2.85" fill="#000"/>
<rect x="275.57" y="137.47" width="2.85" height="2.85" fill="#000"/>
<rect x="279.27" y="134.67" width="2.85" height="2.85" fill="#000"/>
<rect x="286.57" y="127.08" width="2.85" height="2.85" fill="#000"/>
<circle cx="244.70" cy="101.30" r="1.55" fill="#f00"/>
<circle cx="252.10" cy="125.10" r="1.55" fill="#f00"/>
<circle cx="255.50" cy="133.70" r="1.55" fill="#f00"/>
<circle cx="259.00" cy="138.90" r="1.55" fill="#f00"/>
<circle cx="262.70" cy="142.40" r="1.55" fill="#f00"/>
<circle cx="266.30" cy="143.80" r="1.55" fill="#f00"/>
<circle cx="269.60" cy="143.80" r="1.55" fill="#f00"/>
<circle cx="273.50" cy="143.30" r="1.55" fill="#f00"/>
<circle cx="277.00" cy="142.80" r="1.55" fill="#f00"/>
<circle cx="280.70" cy="140.60" r="1.55" fill="#f00"/>
<circle cx="288.00" cy="135.90" r="1.55" fill="#f00"/>
<rect x="314.7" y="88.1" width="50.80" height="58.10" fill="none" stroke="#444" stroke-width="0.65"/>
<line x1="320.60" y1="146.2" x2="320.60" y2="148.40" stroke="#444" stroke-width="0.65"/>
<line x1="331.90" y1="146.2" x2="331.90" y2="148.40" stroke="#444" stroke-width="0.65"/>
<line x1="343.20" y1="146.2" x2="343.20" y2="148.40" stroke="#444" stroke-width="0.65"/>
<line x1="354.50" y1="146.2" x2="354.50" y2="148.40" stroke="#444" stroke-width="0.65"/>
<line x1="365.80" y1="146.2" x2="365.80" y2="148.40" stroke="#444" stroke-width="0.65"/>
<line x1="326.25" y1="146.2" x2="326.25" y2="147.40" stroke="#444" stroke-width="0.65"/>
<line x1="337.55" y1="146.2" x2="337.55" y2="147.40" stroke="#444" stroke-width="0.65"/>
<line x1="348.85" y1="146.2" x2="348.85" y2="147.40" stroke="#444" stroke-width="0.65"/>
<line x1="360.15" y1="146.2" x2="360.15" y2="147.40" stroke="#444" stroke-width="0.65"/>
<line x1="312.60" y1="142.30" x2="314.7" y2="142.30" stroke="#444" stroke-width="0.65"/>
<line x1="312.60" y1="135.10" x2="314.7" y2="135.10" stroke="#444" stroke-width="0.65"/>
<line x1="312.60" y1="127.90" x2="314.7" y2="127.90" stroke="#444" stroke-width="0.65"/>
<line x1="312.60" y1="120.70" x2="314.7" y2="120.70" stroke="#444" stroke-width="0.65"/>
<line x1="312.60" y1="113.50" x2="314.7" y2="113.50" stroke="#444" stroke-width="0.65"/>
<line x1="312.60" y1="106.30" x2="314.7" y2="106.30" stroke="#444" stroke-width="0.65"/>
<line x1="312.60" y1="99.10" x2="314.7" y2="99.10" stroke="#444" stroke-width="0.65"/>
<line x1="312.60" y1="91.90" x2="314.7" y2="91.90" stroke="#444" stroke-width="0.65"/>
<line x1="313.40" y1="138.70" x2="314.7" y2="138.70" stroke="#444" stroke-width="0.65"/>
<line x1="313.40" y1="131.50" x2="314.7" y2="131.50" stroke="#444" stroke-width="0.65"/>
<line x1="313.40" y1="124.30" x2="314.7" y2="124.30" stroke="#444" stroke-width="0.65"/>
<line x1="313.40" y1="117.10" x2="314.7" y2="117.10" stroke="#444" stroke-width="0.65"/>
<line x1="313.40" y1="109.90" x2="314.7" y2="109.90" stroke="#444" stroke-width="0.65"/>
<line x1="313.40" y1="102.70" x2="314.7" y2="102.70" stroke="#444" stroke-width="0.65"/>
<line x1="313.40" y1="95.50" x2="314.7" y2="95.50" stroke="#444" stroke-width="0.65"/>
<polyline points="320.00,99.00 325.40,125.10 328.60,133.30 331.40,139.00 334.30,141.90 337.10,142.30 339.70,140.40 345.40,136.60 348.30,135.40 354.00,131.40" fill="none" stroke="#000" stroke-width="0.6"/>
<polyline points="320.00,107.10 325.40,129.40 328.60,135.40 331.40,139.00 334.30,141.90 337.10,142.30 339.70,139.00 345.40,136.60 348.30,133.70 354.00,129.70" fill="none" stroke="#f22" stroke-width="0.65" stroke-dasharray="1.6,2.6"/>
<rect x="318.57" y="97.58" width="2.85" height="2.85" fill="#000"/>
<rect x="323.97" y="123.67" width="2.85" height="2.85" fill="#000"/>
<rect x="327.18" y="131.88" width="2.85" height="2.85" fill="#000"/>
<rect x="329.97" y="137.57" width="2.85" height="2.85" fill="#000"/>
<rect x="332.88" y="140.47" width="2.85" height="2.85" fill="#000"/>
<rect x="335.68" y="140.88" width="2.85" height="2.85" fill="#000"/>
<rect x="338.27" y="138.97" width="2.85" height="2.85" fill="#000"/>
<rect x="343.97" y="135.17" width="2.85" height="2.85" fill="#000"/>
<rect x="346.88" y="133.97" width="2.85" height="2.85" fill="#000"/>
<rect x="352.57" y="129.97" width="2.85" height="2.85" fill="#000"/>
<circle cx="320.00" cy="107.10" r="1.55" fill="#f00"/>
<circle cx="325.40" cy="129.40" r="1.55" fill="#f00"/>
<circle cx="328.60" cy="135.40" r="1.55" fill="#f00"/>
<circle cx="331.40" cy="139.00" r="1.55" fill="#f00"/>
<circle cx="334.30" cy="141.90" r="1.55" fill="#f00"/>
<circle cx="337.10" cy="142.30" r="1.55" fill="#f00"/>
<circle cx="339.70" cy="139.00" r="1.55" fill="#f00"/>
<circle cx="345.40" cy="136.60" r="1.55" fill="#f00"/>
<circle cx="348.30" cy="133.70" r="1.55" fill="#f00"/>
<circle cx="354.00" cy="129.70" r="1.55" fill="#f00"/>
<rect x="95.3" y="172.9" width="50.60" height="58.00" fill="none" stroke="#444" stroke-width="0.65"/>
<line x1="100.60" y1="230.9" x2="100.60" y2="233.10" stroke="#444" stroke-width="0.65"/>
<line x1="111.62" y1="230.9" x2="111.62" y2="233.10" stroke="#444" stroke-width="0.65"/>
<line x1="122.65" y1="230.9" x2="122.65" y2="233.10" stroke="#444" stroke-width="0.65"/>
<line x1="133.67" y1="230.9" x2="133.67" y2="233.10" stroke="#444" stroke-width="0.65"/>
<line x1="144.70" y1="230.9" x2="144.70" y2="233.10" stroke="#444" stroke-width="0.65"/>
<line x1="106.11" y1="230.9" x2="106.11" y2="232.10" stroke="#444" stroke-width="0.65"/>
<line x1="117.14" y1="230.9" x2="117.14" y2="232.10" stroke="#444" stroke-width="0.65"/>
<line x1="128.16" y1="230.9" x2="128.16" y2="232.10" stroke="#444" stroke-width="0.65"/>
<line x1="139.19" y1="230.9" x2="139.19" y2="232.10" stroke="#444" stroke-width="0.65"/>
<line x1="93.20" y1="228.40" x2="95.3" y2="228.40" stroke="#444" stroke-width="0.65"/>
<line x1="93.20" y1="213.53" x2="95.3" y2="213.53" stroke="#444" stroke-width="0.65"/>
<line x1="93.20" y1="198.67" x2="95.3" y2="198.67" stroke="#444" stroke-width="0.65"/>
<line x1="93.20" y1="183.80" x2="95.3" y2="183.80" stroke="#444" stroke-width="0.65"/>
<line x1="94.00" y1="220.97" x2="95.3" y2="220.97" stroke="#444" stroke-width="0.65"/>
<line x1="94.00" y1="206.10" x2="95.3" y2="206.10" stroke="#444" stroke-width="0.65"/>
<line x1="94.00" y1="191.23" x2="95.3" y2="191.23" stroke="#444" stroke-width="0.65"/>
<polyline points="99.10,178.40 101.00,201.30 102.40,214.60 103.40,222.60 104.90,226.30 105.70,227.80 107.10,228.10 108.90,228.10 110.40,228.80 111.80,229.40 111.80,229.40 112.32,228.67 112.89,227.98 113.51,227.32 114.17,226.70 114.87,226.13 115.60,225.60 116.37,225.13 117.16,224.72 117.98,224.37 118.83,224.07 119.69,223.81 120.56,223.59 121.45,223.40 122.34,223.23 123.23,223.08 124.12,222.93 125.01,222.79 125.89,222.63 126.77,222.46 127.64,222.27 128.51,222.04 129.38,221.79 130.24,221.54 131.10,221.29 131.97,221.07 132.85,220.87 133.73,220.71 134.62,220.59 135.51,220.50 136.41,220.44 137.31,220.39 138.21,220.36 139.11,220.34 140.01,220.32 140.90,220.30" fill="none" stroke="#000" stroke-width="0.6"/>
<polyline points="99.10,178.40 101.00,198.30 102.40,212.40 103.40,222.20 104.90,226.10 105.70,227.60 107.10,227.90 108.90,227.90 110.40,228.60 111.80,229.20 111.80,229.20 112.30,228.50 112.84,227.82 113.42,227.16 114.04,226.54 114.69,225.95 115.38,225.41 116.10,224.91 116.85,224.48 117.63,224.11 118.43,223.79 119.26,223.53 120.10,223.30 120.96,223.10 121.82,222.93 122.68,222.77 123.55,222.62 124.41,222.47 125.26,222.30 126.11,222.13 126.96,221.94 127.80,221.72 128.63,221.48 129.47,221.23 130.30,220.97 131.13,220.72 131.97,220.48 132.81,220.27 133.66,220.10 134.52,219.94 135.38,219.81 136.24,219.70 137.11,219.60 137.97,219.50 138.84,219.40 139.70,219.30 141.60,218.00" fill="none" stroke="#f22" stroke-width="0.65" stroke-dasharray="1.6,2.6"/>
<rect x="97.67" y="176.97" width="2.85" height="2.85" fill="#000"/>
<rect x="99.58" y="199.88" width="2.85" height="2.85" fill="#000"/>
<rect x="100.98" y="213.17" width="2.85" height="2.85" fill="#000"/>
<rect x="101.98" y="221.17" width="2.85" height="2.85" fill="#000"/>
<rect x="103.75" y="225.15" width="2.30" height="2.30" fill="#000"/>
<rect x="104.55" y="226.65" width="2.30" height="2.30" fill="#000"/>
<rect x="105.95" y="226.95" width="2.30" height="2.30" fill="#000"/>
<rect x="107.75" y="226.95" width="2.30" height="2.30" fill="#000"/>
<rect x="109.25" y="227.65" width="2.30" height="2.30" fill="#000"/>
<rect x="110.65" y="228.25" width="2.30" height="2.30" fill="#000"/>
<rect x="110.80" y="228.40" width="2.00" height="2.00" fill="#000"/>
<rect x="111.32" y="227.67" width="2.00" height="2.00" fill="#000"/>
<rect x="111.89" y="226.98" width="2.00" height="2.00" fill="#000"/>
<rect x="112.51" y="226.32" width="2.00" height="2.00" fill="#000"/>
<rect x="113.17" y="225.70" width="2.00" height="2.00" fill="#000"/>
<rect x="113.87" y="225.13" width="2.00" height="2.00" fill="#000"/>
<rect x="114.60" y="224.60" width="2.00" height="2.00" fill="#000"/>
<rect x="115.37" y="224.13" width="2.00" height="2.00" fill="#000"/>
<rect x="116.16" y="223.72" width="2.00" height="2.00" fill="#000"/>
<rect x="116.98" y="223.37" width="2.00" height="2.00" fill="#000"/>
<rect x="117.83" y="223.07" width="2.00" height="2.00" fill="#000"/>
<rect x="118.69" y="222.81" width="2.00" height="2.00" fill="#000"/>
<rect x="119.56" y="222.59" width="2.00" height="2.00" fill="#000"/>
<rect x="120.45" y="222.40" width="2.00" height="2.00" fill="#000"/>
<rect x="121.34" y="222.23" width="2.00" height="2.00" fill="#000"/>
<rect x="122.23" y="222.08" width="2.00" height="2.00" fill="#000"/>
<rect x="123.12" y="221.93" width="2.00" height="2.00" fill="#000"/>
<rect x="124.01" y="221.79" width="2.00" height="2.00" fill="#000"/>
<rect x="124.89" y="221.63" width="2.00" height="2.00" fill="#000"/>
<rect x="125.77" y="221.46" width="2.00" height="2.00" fill="#000"/>
<rect x="126.64" y="221.27" width="2.00" height="2.00" fill="#000"/>
<rect x="127.51" y="221.04" width="2.00" height="2.00" fill="#000"/>
<rect x="128.38" y="220.79" width="2.00" height="2.00" fill="#000"/>
<rect x="129.24" y="220.54" width="2.00" height="2.00" fill="#000"/>
<rect x="130.10" y="220.29" width="2.00" height="2.00" fill="#000"/>
<rect x="130.97" y="220.07" width="2.00" height="2.00" fill="#000"/>
<rect x="131.85" y="219.87" width="2.00" height="2.00" fill="#000"/>
<rect x="132.73" y="219.71" width="2.00" height="2.00" fill="#000"/>
<rect x="133.62" y="219.59" width="2.00" height="2.00" fill="#000"/>
<rect x="134.51" y="219.50" width="2.00" height="2.00" fill="#000"/>
<rect x="135.41" y="219.44" width="2.00" height="2.00" fill="#000"/>
<rect x="136.31" y="219.39" width="2.00" height="2.00" fill="#000"/>
<rect x="137.21" y="219.36" width="2.00" height="2.00" fill="#000"/>
<rect x="138.11" y="219.34" width="2.00" height="2.00" fill="#000"/>
<rect x="139.01" y="219.32" width="2.00" height="2.00" fill="#000"/>
<rect x="139.90" y="219.30" width="2.00" height="2.00" fill="#000"/>
<circle cx="99.10" cy="178.40" r="1.55" fill="#f00"/>
<circle cx="101.00" cy="198.30" r="1.55" fill="#f00"/>
<circle cx="102.40" cy="212.40" r="1.55" fill="#f00"/>
<circle cx="103.40" cy="222.20" r="1.55" fill="#f00"/>
<circle cx="104.90" cy="226.10" r="1.30" fill="#f00"/>
<circle cx="105.70" cy="227.60" r="1.30" fill="#f00"/>
<circle cx="107.10" cy="227.90" r="1.30" fill="#f00"/>
<circle cx="108.90" cy="227.90" r="1.30" fill="#f00"/>
<circle cx="110.40" cy="228.60" r="1.30" fill="#f00"/>
<circle cx="111.80" cy="229.20" r="1.30" fill="#f00"/>
<circle cx="111.80" cy="229.20" r="1.10" fill="#f00"/>
<circle cx="112.30" cy="228.50" r="1.10" fill="#f00"/>
<circle cx="112.84" cy="227.82" r="1.10" fill="#f00"/>
<circle cx="113.42" cy="227.16" r="1.10" fill="#f00"/>
<circle cx="114.04" cy="226.54" r="1.10" fill="#f00"/>
<circle cx="114.69" cy="225.95" r="1.10" fill="#f00"/>
<circle cx="115.38" cy="225.41" r="1.10" fill="#f00"/>
<circle cx="116.10" cy="224.91" r="1.10" fill="#f00"/>
<circle cx="116.85" cy="224.48" r="1.10" fill="#f00"/>
<circle cx="117.63" cy="224.11" r="1.10" fill="#f00"/>
<circle cx="118.43" cy="223.79" r="1.10" fill="#f00"/>
<circle cx="119.26" cy="223.53" r="1.10" fill="#f00"/>
<circle cx="120.10" cy="223.30" r="1.10" fill="#f00"/>
<circle cx="120.96" cy="223.10" r="1.10" fill="#f00"/>
<circle cx="121.82" cy="222.93" r="1.10" fill="#f00"/>
<circle cx="122.68" cy="222.77" r="1.10" fill="#f00"/>
<circle cx="123.55" cy="222.62" r="1.10" fill="#f00"/>
<circle cx="124.41" cy="222.47" r="1.10" fill="#f00"/>
<circle cx="125.26" cy="222.30" r="1.10" fill="#f00"/>
<circle cx="126.11" cy="222.13" r="1.10" fill="#f00"/>
<circle cx="126.96" cy="221.94" r="1.10" fill="#f00"/>
<circle cx="127.80" cy="221.72" r="1.10" fill="#f00"/>
<circle cx="128.63" cy="221.48" r="1.10" fill="#f00"/>
<circle cx="129.47" cy="221.23" r="1.10" fill="#f00"/>
<circle cx="130.30" cy="220.97" r="1.10" fill="#f00"/>
<circle cx="131.13" cy="220.72" r="1.10" fill="#f00"/>
<circle cx="131.97" cy="220.48" r="1.10" fill="#f00"/>
<circle cx="132.81" cy="220.27" r="1.10" fill="#f00"/>
<circle cx="133.66" cy="220.10" r="1.10" fill="#f00"/>
<circle cx="134.52" cy="219.94" r="1.10" fill="#f00"/>
<circle cx="135.38" cy="219.81" r="1.10" fill="#f00"/>
<circle cx="136.24" cy="219.70" r="1.10" fill="#f00"/>
<circle cx="137.11" cy="219.60" r="1.10" fill="#f00"/>
<circle cx="137.97" cy="219.50" r="1.10" fill="#f00"/>
<circle cx="138.84" cy="219.40" r="1.10" fill="#f00"/>
<circle cx="139.70" cy="219.30" r="1.10" fill="#f00"/>
<circle cx="141.60" cy="218.00" r="1.50" fill="#f00"/>
<rect x="168.5" y="172.9" width="50.50" height="58.00" fill="none" stroke="#444" stroke-width="0.65"/>
<line x1="175.00" y1="230.9" x2="175.00" y2="233.10" stroke="#444" stroke-width="0.65"/>
<line x1="188.47" y1="230.9" x2="188.47" y2="233.10" stroke="#444" stroke-width="0.65"/>
<line x1="201.93" y1="230.9" x2="201.93" y2="233.10" stroke="#444" stroke-width="0.65"/>
<line x1="215.40" y1="230.9" x2="215.40" y2="233.10" stroke="#444" stroke-width="0.65"/>
<line x1="181.73" y1="230.9" x2="181.73" y2="232.10" stroke="#444" stroke-width="0.65"/>
<line x1="195.20" y1="230.9" x2="195.20" y2="232.10" stroke="#444" stroke-width="0.65"/>
<line x1="208.67" y1="230.9" x2="208.67" y2="232.10" stroke="#444" stroke-width="0.65"/>
<line x1="166.40" y1="229.30" x2="168.5" y2="229.30" stroke="#444" stroke-width="0.65"/>
<line x1="166.40" y1="216.83" x2="168.5" y2="216.83" stroke="#444" stroke-width="0.65"/>
<line x1="166.40" y1="204.35" x2="168.5" y2="204.35" stroke="#444" stroke-width="0.65"/>
<line x1="166.40" y1="191.88" x2="168.5" y2="191.88" stroke="#444" stroke-width="0.65"/>
<line x1="166.40" y1="179.40" x2="168.5" y2="179.40" stroke="#444" stroke-width="0.65"/>
<line x1="167.20" y1="223.06" x2="168.5" y2="223.06" stroke="#444" stroke-width="0.65"/>
<line x1="167.20" y1="210.59" x2="168.5" y2="210.59" stroke="#444" stroke-width="0.65"/>
<line x1="167.20" y1="198.11" x2="168.5" y2="198.11" stroke="#444" stroke-width="0.65"/>
<line x1="167.20" y1="185.64" x2="168.5" y2="185.64" stroke="#444" stroke-width="0.65"/>
<polyline points="173.50,176.60 174.80,197.20 176.70,209.90 178.30,217.90 178.30,218.10 178.53,219.02 178.80,219.93 179.11,220.83 179.47,221.71 179.87,222.56 180.32,223.39 180.83,224.18 181.39,224.94 182.01,225.66 182.70,226.32 183.45,226.89 184.28,227.34 185.16,227.67 186.08,227.92 187.01,228.12 187.93,228.32 188.85,228.53 189.77,228.76 190.69,229.02 191.62,229.26 192.55,229.39 193.46,229.36 194.37,229.15 195.26,228.83 196.15,228.44 197.04,228.03 197.92,227.65 198.80,227.29 199.67,226.95 200.54,226.60 201.41,226.24 202.26,225.85 203.11,225.44 203.95,225.01 204.78,224.56 205.61,224.10 206.44,223.64 207.26,223.18 208.08,222.71 208.89,222.22 209.69,221.73 210.48,221.21 211.26,220.68 212.02,220.13 212.77,219.55 213.49,218.94 214.20,218.30" fill="none" stroke="#000" stroke-width="0.6"/>
<polyline points="173.50,180.00 174.80,197.20 176.70,209.90 178.30,217.90 178.30,217.90 178.52,218.80 178.78,219.68 179.08,220.55 179.42,221.41 179.81,222.24 180.24,223.05 180.72,223.83 181.26,224.58 181.85,225.29 182.50,225.95 183.21,226.53 184.00,227.00 184.84,227.36 185.72,227.62 186.62,227.84 187.52,228.04 188.41,228.23 189.31,228.45 190.20,228.68 191.10,228.93 192.00,229.12 192.90,229.20 193.79,229.12 194.68,228.90 195.56,228.60 196.43,228.25 197.31,227.92 198.19,227.63 199.07,227.36 199.95,227.10 200.82,226.83 201.68,226.54 202.54,226.21 203.39,225.87 204.24,225.52 205.09,225.17 205.95,224.85 206.82,224.54 207.69,224.26 208.57,223.99 209.45,223.73 210.32,223.46 211.20,223.18 212.06,222.89 212.92,222.56 213.77,222.20 214.60,221.80" fill="none" stroke="#f22" stroke-width="0.65" stroke-dasharray="1.6,2.6"/>
<rect x="172.07" y="175.17" width="2.85" height="2.85" fill="#000"/>
<rect x="173.38" y="195.77" width="2.85" height="2.85" fill="#000"/>
<rect x="175.27" y="208.47" width="2.85" height="2.85" fill="#000"/>
<rect x="176.88" y="216.47" width="2.85" height="2.85" fill="#000"/>
<rect x="177.25" y="217.05" width="2.10" height="2.10" fill="#000"/>
<rect x="177.48" y="217.97" width="2.10" height="2.10" fill="#000"/>
<rect x="177.75" y="218.88" width="2.10" height="2.10" fill="#000"/>
<rect x="178.06" y="219.78" width="2.10" height="2.10" fill="#000"/>
<rect x="178.42" y="220.66" width="2.10" height="2.10" fill="#000"/>
<rect x="178.82" y="221.51" width="2.10" height="2.10" fill="#000"/>
<rect x="179.27" y="222.34" width="2.10" height="2.10" fill="#000"/>
<rect x="179.78" y="223.13" width="2.10" height="2.10" fill="#000"/>
<rect x="180.34" y="223.89" width="2.10" height="2.10" fill="#000"/>
<rect x="180.96" y="224.61" width="2.10" height="2.10" fill="#000"/>
<rect x="181.65" y="225.27" width="2.10" height="2.10" fill="#000"/>
<rect x="182.40" y="225.84" width="2.10" height="2.10" fill="#000"/>
<rect x="183.23" y="226.29" width="2.10" height="2.10" fill="#000"/>
<rect x="184.11" y="226.62" width="2.10" height="2.10" fill="#000"/>
<rect x="185.03" y="226.87" width="2.10" height="2.10" fill="#000"/>
<rect x="185.96" y="227.07" width="2.10" height="2.10" fill="#000"/>
<rect x="186.88" y="227.27" width="2.10" height="2.10" fill="#000"/>
<rect x="187.80" y="227.48" width="2.10" height="2.10" fill="#000"/>
<rect x="188.72" y="227.71" width="2.10" height="2.10" fill="#000"/>
<rect x="189.64" y="227.97" width="2.10" height="2.10" fill="#000"/>
<rect x="190.57" y="228.21" width="2.10" height="2.10" fill="#000"/>
<rect x="191.50" y="228.34" width="2.10" height="2.10" fill="#000"/>
<rect x="192.41" y="228.31" width="2.10" height="2.10" fill="#000"/>
<rect x="193.32" y="228.10" width="2.10" height="2.10" fill="#000"/>
<rect x="194.21" y="227.78" width="2.10" height="2.10" fill="#000"/>
<rect x="195.10" y="227.39" width="2.10" height="2.10" fill="#000"/>
<rect x="195.99" y="226.98" width="2.10" height="2.10" fill="#000"/>
<rect x="196.87" y="226.60" width="2.10" height="2.10" fill="#000"/>
<rect x="197.75" y="226.24" width="2.10" height="2.10" fill="#000"/>
<rect x="198.62" y="225.90" width="2.10" height="2.10" fill="#000"/>
<rect x="199.49" y="225.55" width="2.10" height="2.10" fill="#000"/>
<rect x="200.36" y="225.19" width="2.10" height="2.10" fill="#000"/>
<rect x="201.21" y="224.80" width="2.10" height="2.10" fill="#000"/>
<rect x="202.06" y="224.39" width="2.10" height="2.10" fill="#000"/>
<rect x="202.90" y="223.96" width="2.10" height="2.10" fill="#000"/>
<rect x="203.73" y="223.51" width="2.10" height="2.10" fill="#000"/>
<rect x="204.56" y="223.05" width="2.10" height="2.10" fill="#000"/>
<rect x="205.39" y="222.59" width="2.10" height="2.10" fill="#000"/>
<rect x="206.21" y="222.13" width="2.10" height="2.10" fill="#000"/>
<rect x="207.03" y="221.66" width="2.10" height="2.10" fill="#000"/>
<rect x="207.84" y="221.17" width="2.10" height="2.10" fill="#000"/>
<rect x="208.64" y="220.68" width="2.10" height="2.10" fill="#000"/>
<rect x="209.43" y="220.16" width="2.10" height="2.10" fill="#000"/>
<rect x="210.21" y="219.63" width="2.10" height="2.10" fill="#000"/>
<rect x="210.97" y="219.08" width="2.10" height="2.10" fill="#000"/>
<rect x="211.72" y="218.50" width="2.10" height="2.10" fill="#000"/>
<rect x="212.44" y="217.89" width="2.10" height="2.10" fill="#000"/>
<rect x="213.15" y="217.25" width="2.10" height="2.10" fill="#000"/>
<circle cx="173.50" cy="180.00" r="1.55" fill="#f00"/>
<circle cx="174.80" cy="197.20" r="1.55" fill="#f00"/>
<circle cx="176.70" cy="209.90" r="1.55" fill="#f00"/>
<circle cx="178.30" cy="217.90" r="1.55" fill="#f00"/>
<circle cx="178.30" cy="217.90" r="1.20" fill="#f00"/>
<circle cx="178.52" cy="218.80" r="1.20" fill="#f00"/>
<circle cx="178.78" cy="219.68" r="1.20" fill="#f00"/>
<circle cx="179.08" cy="220.55" r="1.20" fill="#f00"/>
<circle cx="179.42" cy="221.41" r="1.20" fill="#f00"/>
<circle cx="179.81" cy="222.24" r="1.20" fill="#f00"/>
<circle cx="180.24" cy="223.05" r="1.20" fill="#f00"/>
<circle cx="180.72" cy="223.83" r="1.20" fill="#f00"/>
<circle cx="181.26" cy="224.58" r="1.20" fill="#f00"/>
<circle cx="181.85" cy="225.29" r="1.20" fill="#f00"/>
<circle cx="182.50" cy="225.95" r="1.20" fill="#f00"/>
<circle cx="183.21" cy="226.53" r="1.20" fill="#f00"/>
<circle cx="184.00" cy="227.00" r="1.20" fill="#f00"/>
<circle cx="184.84" cy="227.36" r="1.20" fill="#f00"/>
<circle cx="185.72" cy="227.62" r="1.20" fill="#f00"/>
<circle cx="186.62" cy="227.84" r="1.20" fill="#f00"/>
<circle cx="187.52" cy="228.04" r="1.20" fill="#f00"/>
<circle cx="188.41" cy="228.23" r="1.20" fill="#f00"/>
<circle cx="189.31" cy="228.45" r="1.20" fill="#f00"/>
<circle cx="190.20" cy="228.68" r="1.20" fill="#f00"/>
<circle cx="191.10" cy="228.93" r="1.20" fill="#f00"/>
<circle cx="192.00" cy="229.12" r="1.20" fill="#f00"/>
<circle cx="192.90" cy="229.20" r="1.20" fill="#f00"/>
<circle cx="193.79" cy="229.12" r="1.20" fill="#f00"/>
<circle cx="194.68" cy="228.90" r="1.20" fill="#f00"/>
<circle cx="195.56" cy="228.60" r="1.20" fill="#f00"/>
<circle cx="196.43" cy="228.25" r="1.20" fill="#f00"/>
<circle cx="197.31" cy="227.92" r="1.20" fill="#f00"/>
<circle cx="198.19" cy="227.63" r="1.20" fill="#f00"/>
<circle cx="199.07" cy="227.36" r="1.20" fill="#f00"/>
<circle cx="199.95" cy="227.10" r="1.20" fill="#f00"/>
<circle cx="200.82" cy="226.83" r="1.20" fill="#f00"/>
<circle cx="201.68" cy="226.54" r="1.20" fill="#f00"/>
<circle cx="202.54" cy="226.21" r="1.20" fill="#f00"/>
<circle cx="203.39" cy="225.87" r="1.20" fill="#f00"/>
<circle cx="204.24" cy="225.52" r="1.20" fill="#f00"/>
<circle cx="205.09" cy="225.17" r="1.20" fill="#f00"/>
<circle cx="205.95" cy="224.85" r="1.20" fill="#f00"/>
<circle cx="206.82" cy="224.54" r="1.20" fill="#f00"/>
<circle cx="207.69" cy="224.26" r="1.20" fill="#f00"/>
<circle cx="208.57" cy="223.99" r="1.20" fill="#f00"/>
<circle cx="209.45" cy="223.73" r="1.20" fill="#f00"/>
<circle cx="210.32" cy="223.46" r="1.20" fill="#f00"/>
<circle cx="211.20" cy="223.18" r="1.20" fill="#f00"/>
<circle cx="212.06" cy="222.89" r="1.20" fill="#f00"/>
<circle cx="212.92" cy="222.56" r="1.20" fill="#f00"/>
<circle cx="213.77" cy="222.20" r="1.20" fill="#f00"/>
<circle cx="214.60" cy="221.80" r="1.20" fill="#f00"/>
<rect x="241.4" y="172.9" width="50.90" height="58.00" fill="none" stroke="#444" stroke-width="0.65"/>
<line x1="251.50" y1="230.9" x2="251.50" y2="233.10" stroke="#444" stroke-width="0.65"/>
<line x1="264.97" y1="230.9" x2="264.97" y2="233.10" stroke="#444" stroke-width="0.65"/>
<line x1="278.43" y1="230.9" x2="278.43" y2="233.10" stroke="#444" stroke-width="0.65"/>
<line x1="291.90" y1="230.9" x2="291.90" y2="233.10" stroke="#444" stroke-width="0.65"/>
<line x1="258.23" y1="230.9" x2="258.23" y2="232.10" stroke="#444" stroke-width="0.65"/>
<line x1="271.70" y1="230.9" x2="271.70" y2="232.10" stroke="#444" stroke-width="0.65"/>
<line x1="285.17" y1="230.9" x2="285.17" y2="232.10" stroke="#444" stroke-width="0.65"/>
<line x1="239.30" y1="229.30" x2="241.4" y2="229.30" stroke="#444" stroke-width="0.65"/>
<line x1="239.30" y1="219.10" x2="241.4" y2="219.10" stroke="#444" stroke-width="0.65"/>
<line x1="239.30" y1="208.90" x2="241.4" y2="208.90" stroke="#444" stroke-width="0.65"/>
<line x1="239.30" y1="198.70" x2="241.4" y2="198.70" stroke="#444" stroke-width="0.65"/>
<line x1="239.30" y1="188.50" x2="241.4" y2="188.50" stroke="#444" stroke-width="0.65"/>
<line x1="239.30" y1="178.30" x2="241.4" y2="178.30" stroke="#444" stroke-width="0.65"/>
<line x1="240.10" y1="224.20" x2="241.4" y2="224.20" stroke="#444" stroke-width="0.65"/>
<line x1="240.10" y1="214.00" x2="241.4" y2="214.00" stroke="#444" stroke-width="0.65"/>
<line x1="240.10" y1="203.80" x2="241.4" y2="203.80" stroke="#444" stroke-width="0.65"/>
<line x1="240.10" y1="193.60" x2="241.4" y2="193.60" stroke="#444" stroke-width="0.65"/>
<line x1="240.10" y1="183.40" x2="241.4" y2="183.40" stroke="#444" stroke-width="0.65"/>
<polyline points="251.70,216.90 255.30,228.60 258.60,229.70 262.10,226.40 265.40,219.30 268.90,212.60 272.10,205.40 275.40,197.90 279.00,192.10 282.60,186.00" fill="none" stroke="#000" stroke-width="0.6"/>
<polyline points="251.70,222.60 255.30,228.60 258.60,229.70 262.10,226.40 265.40,221.40 268.90,214.30 272.10,206.90 275.40,199.30 279.00,193.60 282.60,188.90" fill="none" stroke="#f22" stroke-width="0.65" stroke-dasharray="1.6,2.6"/>
<rect x="250.27" y="215.47" width="2.85" height="2.85" fill="#000"/>
<rect x="253.88" y="227.17" width="2.85" height="2.85" fill="#000"/>
<rect x="257.18" y="228.27" width="2.85" height="2.85" fill="#000"/>
<rect x="260.68" y="224.97" width="2.85" height="2.85" fill="#000"/>
<rect x="263.97" y="217.88" width="2.85" height="2.85" fill="#000"/>
<rect x="267.47" y="211.17" width="2.85" height="2.85" fill="#000"/>
<rect x="270.68" y="203.97" width="2.85" height="2.85" fill="#000"/>
<rect x="273.97" y="196.47" width="2.85" height="2.85" fill="#000"/>
<rect x="277.57" y="190.67" width="2.85" height="2.85" fill="#000"/>
<rect x="281.18" y="184.57" width="2.85" height="2.85" fill="#000"/>
<circle cx="251.70" cy="222.60" r="1.55" fill="#f00"/>
<circle cx="255.30" cy="228.60" r="1.55" fill="#f00"/>
<circle cx="258.60" cy="229.70" r="1.55" fill="#f00"/>
<circle cx="262.10" cy="226.40" r="1.55" fill="#f00"/>
<circle cx="265.40" cy="221.40" r="1.55" fill="#f00"/>
<circle cx="268.90" cy="214.30" r="1.55" fill="#f00"/>
<circle cx="272.10" cy="206.90" r="1.55" fill="#f00"/>
<circle cx="275.40" cy="199.30" r="1.55" fill="#f00"/>
<circle cx="279.00" cy="193.60" r="1.55" fill="#f00"/>
<circle cx="282.60" cy="188.90" r="1.55" fill="#f00"/>
<rect x="314.7" y="172.9" width="50.80" height="58.00" fill="none" stroke="#444" stroke-width="0.65"/>
<line x1="322.10" y1="230.9" x2="322.10" y2="233.10" stroke="#444" stroke-width="0.65"/>
<line x1="331.73" y1="230.9" x2="331.73" y2="233.10" stroke="#444" stroke-width="0.65"/>
<line x1="341.35" y1="230.9" x2="341.35" y2="233.10" stroke="#444" stroke-width="0.65"/>
<line x1="350.98" y1="230.9" x2="350.98" y2="233.10" stroke="#444" stroke-width="0.65"/>
<line x1="360.60" y1="230.9" x2="360.60" y2="233.10" stroke="#444" stroke-width="0.65"/>
<line x1="326.91" y1="230.9" x2="326.91" y2="232.10" stroke="#444" stroke-width="0.65"/>
<line x1="336.54" y1="230.9" x2="336.54" y2="232.10" stroke="#444" stroke-width="0.65"/>
<line x1="346.16" y1="230.9" x2="346.16" y2="232.10" stroke="#444" stroke-width="0.65"/>
<line x1="355.79" y1="230.9" x2="355.79" y2="232.10" stroke="#444" stroke-width="0.65"/>
<line x1="312.60" y1="228.00" x2="314.7" y2="228.00" stroke="#444" stroke-width="0.65"/>
<line x1="312.60" y1="214.22" x2="314.7" y2="214.22" stroke="#444" stroke-width="0.65"/>
<line x1="312.60" y1="200.45" x2="314.7" y2="200.45" stroke="#444" stroke-width="0.65"/>
<line x1="312.60" y1="186.68" x2="314.7" y2="186.68" stroke="#444" stroke-width="0.65"/>
<line x1="312.60" y1="172.90" x2="314.7" y2="172.90" stroke="#444" stroke-width="0.65"/>
<line x1="313.40" y1="221.11" x2="314.7" y2="221.11" stroke="#444" stroke-width="0.65"/>
<line x1="313.40" y1="207.34" x2="314.7" y2="207.34" stroke="#444" stroke-width="0.65"/>
<line x1="313.40" y1="193.56" x2="314.7" y2="193.56" stroke="#444" stroke-width="0.65"/>
<line x1="313.40" y1="179.79" x2="314.7" y2="179.79" stroke="#444" stroke-width="0.65"/>
<polyline points="321.90,182.10 324.70,199.80 326.90,211.10 329.40,218.60 331.90,222.40 334.20,225.40 336.50,227.20 339.00,228.00 341.40,228.20 346.60,228.50" fill="none" stroke="#000" stroke-width="0.6"/>
<polyline points="321.90,190.00 324.70,203.50 326.90,212.90 329.40,218.60 331.90,222.40 334.20,225.40 336.50,227.20 339.00,228.00 341.40,228.20 346.60,226.90" fill="none" stroke="#f22" stroke-width="0.65" stroke-dasharray="1.6,2.6"/>
<rect x="320.47" y="180.67" width="2.85" height="2.85" fill="#000"/>
<rect x="323.27" y="198.38" width="2.85" height="2.85" fill="#000"/>
<rect x="325.47" y="209.67" width="2.85" height="2.85" fill="#000"/>
<rect x="327.97" y="217.17" width="2.85" height="2.85" fill="#000"/>
<rect x="330.47" y="220.97" width="2.85" height="2.85" fill="#000"/>
<rect x="332.77" y="223.97" width="2.85" height="2.85" fill="#000"/>
<rect x="335.07" y="225.77" width="2.85" height="2.85" fill="#000"/>
<rect x="337.57" y="226.57" width="2.85" height="2.85" fill="#000"/>
<rect x="339.97" y="226.77" width="2.85" height="2.85" fill="#000"/>
<rect x="345.18" y="227.07" width="2.85" height="2.85" fill="#000"/>
<circle cx="321.90" cy="190.00" r="1.55" fill="#f00"/>
<circle cx="324.70" cy="203.50" r="1.55" fill="#f00"/>
<circle cx="326.90" cy="212.90" r="1.55" fill="#f00"/>
<circle cx="329.40" cy="218.60" r="1.55" fill="#f00"/>
<circle cx="331.90" cy="222.40" r="1.55" fill="#f00"/>
<circle cx="334.20" cy="225.40" r="1.55" fill="#f00"/>
<circle cx="336.50" cy="227.20" r="1.55" fill="#f00"/>
<circle cx="339.00" cy="228.00" r="1.55" fill="#f00"/>
<circle cx="341.40" cy="228.20" r="1.55" fill="#f00"/>
<circle cx="346.60" cy="226.90" r="1.55" fill="#f00"/>
<line x1="329" y1="198.7" x2="342.3" y2="198.7" stroke="#000" stroke-width="0.6"/>
<circle cx="335.8" cy="198.7" r="1.4" fill="#000"/>
<line x1="329" y1="206.3" x2="342.3" y2="206.3" stroke="#f22" stroke-width="0.65" stroke-dasharray="1.6,2.6"/>
<circle cx="335.7" cy="206.3" r="1.5" fill="#f00"/>
</g>
<g filter="url(#softt)">
<text transform="translate(82.3,32.85) rotate(-90)" x="0" y="0" font-size="6.6" text-anchor="middle">Energy (kcal/mol)</text>
<text transform="translate(82.3,117.74999999999999) rotate(-90)" x="0" y="0" font-size="6.6" text-anchor="middle">Energy (kcal/mol)</text>
<text transform="translate(82.3,202.5) rotate(-90)" x="0" y="0" font-size="6.6" text-anchor="middle">Energy (kcal/mol)</text>
<text transform="translate(95.30,69.20) scale(0.95,1)" font-size="5.6" text-anchor="middle" style="stroke-width:0.05px">1.2</text>
<text transform="translate(106.53,69.20) scale(0.95,1)" font-size="5.6" text-anchor="middle" style="stroke-width:0.05px">1.6</text>
<text transform="translate(117.75,69.20) scale(0.95,1)" font-size="5.6" text-anchor="middle" style="stroke-width:0.05px">2.0</text>
<text transform="translate(128.97,69.20) scale(0.95,1)" font-size="5.6" text-anchor="middle" style="stroke-width:0.05px">2.4</text>
<text transform="translate(140.20,69.20) scale(0.95,1)" font-size="5.6" text-anchor="middle" style="stroke-width:0.05px">2.8</text>
<text transform="translate(91.30,61.80) scale(0.95,1)" font-size="5.6" text-anchor="end" style="stroke-width:0.05px">0</text>
<text transform="translate(91.30,52.38) scale(0.95,1)" font-size="5.6" text-anchor="end" style="stroke-width:0.05px">10</text>
<text transform="translate(91.30,42.97) scale(0.95,1)" font-size="5.6" text-anchor="end" style="stroke-width:0.05px">20</text>
<text transform="translate(91.30,33.55) scale(0.95,1)" font-size="5.6" text-anchor="end" style="stroke-width:0.05px">30</text>
<text transform="translate(91.30,24.13) scale(0.95,1)" font-size="5.6" text-anchor="end" style="stroke-width:0.05px">40</text>
<text transform="translate(91.30,14.72) scale(0.95,1)" font-size="5.6" text-anchor="end" style="stroke-width:0.05px">50</text>
<text transform="translate(91.30,5.30) scale(0.95,1)" font-size="5.6" text-anchor="end" style="stroke-width:0.05px">60</text>
<text x="120.60" y="79.80" font-size="6.6" text-anchor="middle">Al-O Distance (Å)</text>
<text x="96.6" y="12.6" font-size="9.0">(a)</text>
<text x="107.3" y="23.90" font-size="6.15" style="stroke-width:0.05px"><tspan font-size="6.15" dy="0.00">Al(OH)</tspan><tspan font-size="4.00" dy="1.72">4</tspan><tspan font-size="4.00" dy="-4.31">-</tspan></text>
<text transform="translate(172.20,69.20) scale(0.95,1)" font-size="5.6" text-anchor="middle" style="stroke-width:0.05px">80</text>
<text transform="translate(186.57,69.20) scale(0.95,1)" font-size="5.6" text-anchor="middle" style="stroke-width:0.05px">100</text>
<text transform="translate(200.93,69.20) scale(0.95,1)" font-size="5.6" text-anchor="middle" style="stroke-width:0.05px">120</text>
<text transform="translate(215.30,69.20) scale(0.95,1)" font-size="5.6" text-anchor="middle" style="stroke-width:0.05px">140</text>
<text transform="translate(164.50,57.40) scale(0.95,1)" font-size="5.6" text-anchor="end" style="stroke-width:0.05px">0</text>
<text transform="translate(164.50,46.98) scale(0.95,1)" font-size="5.6" text-anchor="end" style="stroke-width:0.05px">2</text>
<text transform="translate(164.50,36.56) scale(0.95,1)" font-size="5.6" text-anchor="end" style="stroke-width:0.05px">4</text>
<text transform="translate(164.50,26.14) scale(0.95,1)" font-size="5.6" text-anchor="end" style="stroke-width:0.05px">6</text>
<text transform="translate(164.50,15.72) scale(0.95,1)" font-size="5.6" text-anchor="end" style="stroke-width:0.05px">8</text>
<text transform="translate(164.50,5.30) scale(0.95,1)" font-size="5.6" text-anchor="end" style="stroke-width:0.05px">10</text>
<text x="193.75" y="79.80" font-size="6.6" text-anchor="middle">O-Al-O Angle (°)</text>
<text x="174.7" y="12.799999999999999" font-size="9.0">(b)</text>
<text x="183.4" y="24.40" font-size="6.15" style="stroke-width:0.05px"><tspan font-size="6.15" dy="0.00">Al(OH)</tspan><tspan font-size="4.00" dy="1.72">4</tspan><tspan font-size="4.00" dy="-4.31">-</tspan></text>
<text transform="translate(241.40,69.20) scale(0.95,1)" font-size="5.6" text-anchor="middle" style="stroke-width:0.05px">1.2</text>
<text transform="translate(252.83,69.20) scale(0.95,1)" font-size="5.6" text-anchor="middle" style="stroke-width:0.05px">1.6</text>
<text transform="translate(264.25,69.20) scale(0.95,1)" font-size="5.6" text-anchor="middle" style="stroke-width:0.05px">2.0</text>
<text transform="translate(275.68,69.20) scale(0.95,1)" font-size="5.6" text-anchor="middle" style="stroke-width:0.05px">2.4</text>
<text transform="translate(287.10,69.20) scale(0.95,1)" font-size="5.6" text-anchor="middle" style="stroke-width:0.05px">2.8</text>
<text transform="translate(237.40,60.60) scale(0.95,1)" font-size="5.6" text-anchor="end" style="stroke-width:0.05px">0</text>
<text transform="translate(237.40,50.52) scale(0.95,1)" font-size="5.6" text-anchor="end" style="stroke-width:0.05px">10</text>
<text transform="translate(237.40,40.44) scale(0.95,1)" font-size="5.6" text-anchor="end" style="stroke-width:0.05px">20</text>
<text transform="translate(237.40,30.36) scale(0.95,1)" font-size="5.6" text-anchor="end" style="stroke-width:0.05px">30</text>
<text transform="translate(237.40,20.28) scale(0.95,1)" font-size="5.6" text-anchor="end" style="stroke-width:0.05px">40</text>
<text transform="translate(237.40,10.20) scale(0.95,1)" font-size="5.6" text-anchor="end" style="stroke-width:0.05px">50</text>
<text x="266.85" y="79.80" font-size="6.6" text-anchor="middle">Al-O Distance (Å)</text>
<text x="251.5" y="13.1" font-size="9.0">(c)</text>
<text x="256.9" y="24.10" font-size="6.15" style="stroke-width:0.05px"><tspan font-size="6.15" dy="0.00">Al(H</tspan><tspan font-size="4.00" dy="1.72">2</tspan><tspan font-size="6.15" dy="-1.72">O)</tspan><tspan font-size="4.00" dy="1.72">6</tspan><tspan font-size="4.00" dy="-4.31">3+</tspan></text>
<text transform="translate(320.60,69.20) scale(0.95,1)" font-size="5.6" text-anchor="middle" style="stroke-width:0.05px">60</text>
<text transform="translate(331.83,69.20) scale(0.95,1)" font-size="5.6" text-anchor="middle" style="stroke-width:0.05px">80</text>
<text transform="translate(343.05,69.20) scale(0.95,1)" font-size="5.6" text-anchor="middle" style="stroke-width:0.05px">100</text>
<text transform="translate(354.27,69.20) scale(0.95,1)" font-size="5.6" text-anchor="middle" style="stroke-width:0.05px">120</text>
<text transform="translate(365.50,69.20) scale(0.95,1)" font-size="5.6" text-anchor="middle" style="stroke-width:0.05px">140</text>
<text transform="translate(310.70,60.10) scale(0.95,1)" font-size="5.6" text-anchor="end" style="stroke-width:0.05px">0</text>
<text transform="translate(310.70,46.42) scale(0.95,1)" font-size="5.6" text-anchor="end" style="stroke-width:0.05px">5</text>
<text transform="translate(310.70,32.75) scale(0.95,1)" font-size="5.6" text-anchor="end" style="stroke-width:0.05px">10</text>
<text transform="translate(310.70,19.07) scale(0.95,1)" font-size="5.6" text-anchor="end" style="stroke-width:0.05px">15</text>
<text transform="translate(310.70,5.40) scale(0.95,1)" font-size="5.6" text-anchor="end" style="stroke-width:0.05px">20</text>
<text x="340.10" y="79.80" font-size="6.6" text-anchor="middle">O-Al-O Angle (°)</text>
<text x="320.4" y="13.1" font-size="9.0">(d)</text>
<text x="325.7" y="24.70" font-size="6.15" style="stroke-width:0.05px"><tspan font-size="6.15" dy="0.00">Al(H</tspan><tspan font-size="4.00" dy="1.72">2</tspan><tspan font-size="6.15" dy="-1.72">O)</tspan><tspan font-size="4.00" dy="1.72">6</tspan><tspan font-size="4.00" dy="-4.31">3+</tspan></text>
<text transform="translate(101.40,154.00) scale(0.95,1)" font-size="5.6" text-anchor="middle" style="stroke-width:0.05px">75</text>
<text transform="translate(112.10,154.00) scale(0.95,1)" font-size="5.6" text-anchor="middle" style="stroke-width:0.05px">100</text>
<text transform="translate(122.80,154.00) scale(0.95,1)" font-size="5.6" text-anchor="middle" style="stroke-width:0.05px">125</text>
<text transform="translate(133.50,154.00) scale(0.95,1)" font-size="5.6" text-anchor="middle" style="stroke-width:0.05px">150</text>
<text transform="translate(144.20,154.00) scale(0.95,1)" font-size="5.6" text-anchor="middle" style="stroke-width:0.05px">175</text>
<text transform="translate(91.30,145.40) scale(0.95,1)" font-size="5.6" text-anchor="end" style="stroke-width:0.05px">0</text>
<text transform="translate(91.30,134.36) scale(0.95,1)" font-size="5.6" text-anchor="end" style="stroke-width:0.05px">10</text>
<text transform="translate(91.30,123.32) scale(0.95,1)" font-size="5.6" text-anchor="end" style="stroke-width:0.05px">20</text>
<text transform="translate(91.30,112.28) scale(0.95,1)" font-size="5.6" text-anchor="end" style="stroke-width:0.05px">30</text>
<text transform="translate(91.30,101.24) scale(0.95,1)" font-size="5.6" text-anchor="end" style="stroke-width:0.05px">40</text>
<text transform="translate(91.30,90.20) scale(0.95,1)" font-size="5.6" text-anchor="end" style="stroke-width:0.05px">50</text>
<text x="120.60" y="164.70" font-size="6.6" text-anchor="middle">Al-O-H Angle (°)</text>
<text x="98.6" y="97.39999999999999" font-size="9.0">(e)</text>
<text transform="translate(171.60,154.00) scale(0.95,1)" font-size="5.6" text-anchor="middle" style="stroke-width:0.05px">1.2</text>
<text transform="translate(181.60,154.00) scale(0.95,1)" font-size="5.6" text-anchor="middle" style="stroke-width:0.05px">1.6</text>
<text transform="translate(191.60,154.00) scale(0.95,1)" font-size="5.6" text-anchor="middle" style="stroke-width:0.05px">2.0</text>
<text transform="translate(201.60,154.00) scale(0.95,1)" font-size="5.6" text-anchor="middle" style="stroke-width:0.05px">2.4</text>
<text transform="translate(211.60,154.00) scale(0.95,1)" font-size="5.6" text-anchor="middle" style="stroke-width:0.05px">2.8</text>
<text transform="translate(164.50,147.10) scale(0.95,1)" font-size="5.6" text-anchor="end" style="stroke-width:0.05px">0</text>
<text transform="translate(164.50,135.70) scale(0.95,1)" font-size="5.6" text-anchor="end" style="stroke-width:0.05px">30</text>
<text transform="translate(164.50,124.30) scale(0.95,1)" font-size="5.6" text-anchor="end" style="stroke-width:0.05px">60</text>
<text transform="translate(164.50,112.90) scale(0.95,1)" font-size="5.6" text-anchor="end" style="stroke-width:0.05px">90</text>
<text transform="translate(164.50,101.50) scale(0.95,1)" font-size="5.6" text-anchor="end" style="stroke-width:0.05px">120</text>
<text transform="translate(164.50,90.10) scale(0.95,1)" font-size="5.6" text-anchor="end" style="stroke-width:0.05px">150</text>
<text x="193.75" y="164.70" font-size="6.6" text-anchor="middle">Si-O Distance (Å)</text>
<text x="169.7" y="97.8" font-size="9.0">(f)</text>
<text transform="translate(248.70,154.00) scale(0.95,1)" font-size="5.6" text-anchor="middle" style="stroke-width:0.05px">80</text>
<text transform="translate(263.10,154.00) scale(0.95,1)" font-size="5.6" text-anchor="middle" style="stroke-width:0.05px">100</text>
<text transform="translate(277.50,154.00) scale(0.95,1)" font-size="5.6" text-anchor="middle" style="stroke-width:0.05px">120</text>
<text transform="translate(291.90,154.00) scale(0.95,1)" font-size="5.6" text-anchor="middle" style="stroke-width:0.05px">140</text>
<text transform="translate(237.40,145.30) scale(0.95,1)" font-size="5.6" text-anchor="end" style="stroke-width:0.05px">0</text>
<text transform="translate(237.40,134.28) scale(0.95,1)" font-size="5.6" text-anchor="end" style="stroke-width:0.05px">5</text>
<text transform="translate(237.40,123.26) scale(0.95,1)" font-size="5.6" text-anchor="end" style="stroke-width:0.05px">10</text>
<text transform="translate(237.40,112.24) scale(0.95,1)" font-size="5.6" text-anchor="end" style="stroke-width:0.05px">15</text>
<text transform="translate(237.40,101.22) scale(0.95,1)" font-size="5.6" text-anchor="end" style="stroke-width:0.05px">20</text>
<text transform="translate(237.40,90.20) scale(0.95,1)" font-size="5.6" text-anchor="end" style="stroke-width:0.05px">25</text>
<text x="266.85" y="164.70" font-size="6.6" text-anchor="middle">O-Si-O Angle (°)</text>
<text x="248.2" y="97.6" font-size="9.0">(g)</text>
<text transform="translate(320.60,154.00) scale(0.95,1)" font-size="5.6" text-anchor="middle" style="stroke-width:0.05px">100</text>
<text transform="translate(331.90,154.00) scale(0.95,1)" font-size="5.6" text-anchor="middle" style="stroke-width:0.05px">120</text>
<text transform="translate(343.20,154.00) scale(0.95,1)" font-size="5.6" text-anchor="middle" style="stroke-width:0.05px">140</text>
<text transform="translate(354.50,154.00) scale(0.95,1)" font-size="5.6" text-anchor="middle" style="stroke-width:0.05px">160</text>
<text transform="translate(365.80,154.00) scale(0.95,1)" font-size="5.6" text-anchor="middle" style="stroke-width:0.05px">180</text>
<text transform="translate(310.70,144.30) scale(0.95,1)" font-size="5.6" text-anchor="end" style="stroke-width:0.05px">0</text>
<text transform="translate(310.70,137.10) scale(0.95,1)" font-size="5.6" text-anchor="end" style="stroke-width:0.05px">2</text>
<text transform="translate(310.70,129.90) scale(0.95,1)" font-size="5.6" text-anchor="end" style="stroke-width:0.05px">4</text>
<text transform="translate(310.70,122.70) scale(0.95,1)" font-size="5.6" text-anchor="end" style="stroke-width:0.05px">6</text>
<text transform="translate(310.70,115.50) scale(0.95,1)" font-size="5.6" text-anchor="end" style="stroke-width:0.05px">8</text>
<text transform="translate(310.70,108.30) scale(0.95,1)" font-size="5.6" text-anchor="end" style="stroke-width:0.05px">10</text>
<text transform="translate(310.70,101.10) scale(0.95,1)" font-size="5.6" text-anchor="end" style="stroke-width:0.05px">12</text>
<text transform="translate(310.70,93.90) scale(0.95,1)" font-size="5.6" text-anchor="end" style="stroke-width:0.05px">14</text>
<text x="340.10" y="164.70" font-size="6.6" text-anchor="middle">Si-O-Si Angle (°)</text>
<text x="321.5" y="97.39999999999999" font-size="9.0">(h)</text>
<text transform="translate(100.60,239.50) scale(0.95,1)" font-size="5.6" text-anchor="middle" style="stroke-width:0.05px">1.6</text>
<text transform="translate(111.62,239.50) scale(0.95,1)" font-size="5.6" text-anchor="middle" style="stroke-width:0.05px">2.4</text>
<text transform="translate(122.65,239.50) scale(0.95,1)" font-size="5.6" text-anchor="middle" style="stroke-width:0.05px">3.2</text>
<text transform="translate(133.67,239.50) scale(0.95,1)" font-size="5.6" text-anchor="middle" style="stroke-width:0.05px">4.0</text>
<text transform="translate(144.70,239.50) scale(0.95,1)" font-size="5.6" text-anchor="middle" style="stroke-width:0.05px">4.8</text>
<text transform="translate(91.30,230.40) scale(0.95,1)" font-size="5.6" text-anchor="end" style="stroke-width:0.05px">0</text>
<text transform="translate(91.30,215.53) scale(0.95,1)" font-size="5.6" text-anchor="end" style="stroke-width:0.05px">20</text>
<text transform="translate(91.30,200.67) scale(0.95,1)" font-size="5.6" text-anchor="end" style="stroke-width:0.05px">40</text>
<text transform="translate(91.30,185.80) scale(0.95,1)" font-size="5.6" text-anchor="end" style="stroke-width:0.05px">60</text>
<text x="120.60" y="249.80" font-size="6.6" text-anchor="middle">Na-O Distance (Å)</text>
<text x="105.1" y="183.1" font-size="9.0">(i)</text>
<text x="102.9" y="190.40" font-size="6.15" style="stroke-width:0.05px"><tspan font-size="6.15" dy="0.00">Na(OH)(H</tspan><tspan font-size="4.00" dy="1.72">2</tspan><tspan font-size="6.15" dy="-1.72">O)</tspan></text>
<text transform="translate(175.00,239.50) scale(0.95,1)" font-size="5.6" text-anchor="middle" style="stroke-width:0.05px">1.6</text>
<text transform="translate(188.47,239.50) scale(0.95,1)" font-size="5.6" text-anchor="middle" style="stroke-width:0.05px">2.4</text>
<text transform="translate(201.93,239.50) scale(0.95,1)" font-size="5.6" text-anchor="middle" style="stroke-width:0.05px">3.2</text>
<text transform="translate(215.40,239.50) scale(0.95,1)" font-size="5.6" text-anchor="middle" style="stroke-width:0.05px">4.0</text>
<text transform="translate(164.50,231.30) scale(0.95,1)" font-size="5.6" text-anchor="end" style="stroke-width:0.05px">0</text>
<text transform="translate(164.50,218.83) scale(0.95,1)" font-size="5.6" text-anchor="end" style="stroke-width:0.05px">20</text>
<text transform="translate(164.50,206.35) scale(0.95,1)" font-size="5.6" text-anchor="end" style="stroke-width:0.05px">40</text>
<text transform="translate(164.50,193.88) scale(0.95,1)" font-size="5.6" text-anchor="end" style="stroke-width:0.05px">60</text>
<text transform="translate(164.50,181.40) scale(0.95,1)" font-size="5.6" text-anchor="end" style="stroke-width:0.05px">80</text>
<text x="193.75" y="249.80" font-size="6.6" text-anchor="middle">Na-O Distance (Å)</text>
<text x="179.2" y="182.7" font-size="9.0">(j)</text>
<text x="176.0" y="190.40" font-size="6.15" style="stroke-width:0.05px"><tspan font-size="6.15" dy="0.00">Na(OH)(H</tspan><tspan font-size="4.00" dy="1.72">2</tspan><tspan font-size="6.15" dy="-1.72">O)</tspan><tspan font-size="4.00" dy="1.72">3</tspan></text>
<text transform="translate(251.50,239.50) scale(0.95,1)" font-size="5.6" text-anchor="middle" style="stroke-width:0.05px">0.8</text>
<text transform="translate(264.97,239.50) scale(0.95,1)" font-size="5.6" text-anchor="middle" style="stroke-width:0.05px">1.2</text>
<text transform="translate(278.43,239.50) scale(0.95,1)" font-size="5.6" text-anchor="middle" style="stroke-width:0.05px">1.6</text>
<text transform="translate(291.90,239.50) scale(0.95,1)" font-size="5.6" text-anchor="middle" style="stroke-width:0.05px">2.0</text>
<text transform="translate(237.40,231.30) scale(0.95,1)" font-size="5.6" text-anchor="end" style="stroke-width:0.05px">0</text>
<text transform="translate(237.40,221.10) scale(0.95,1)" font-size="5.6" text-anchor="end" style="stroke-width:0.05px">20</text>
<text transform="translate(237.40,210.90) scale(0.95,1)" font-size="5.6" text-anchor="end" style="stroke-width:0.05px">40</text>
<text transform="translate(237.40,200.70) scale(0.95,1)" font-size="5.6" text-anchor="end" style="stroke-width:0.05px">60</text>
<text transform="translate(237.40,190.50) scale(0.95,1)" font-size="5.6" text-anchor="end" style="stroke-width:0.05px">80</text>
<text transform="translate(237.40,180.30) scale(0.95,1)" font-size="5.6" text-anchor="end" style="stroke-width:0.05px">100</text>
<text x="266.85" y="249.80" font-size="6.6" text-anchor="middle">K-O Distance (Å)</text>
<text x="242.2" y="183.0" font-size="9.0">(k)</text>
<text x="244.0" y="190.30" font-size="6.15" style="stroke-width:0.05px"><tspan font-size="6.15" dy="0.00">K(OH)(H</tspan><tspan font-size="4.00" dy="1.72">2</tspan><tspan font-size="6.15" dy="-1.72">O)</tspan></text>
<text transform="translate(322.10,239.50) scale(0.95,1)" font-size="5.6" text-anchor="middle" style="stroke-width:0.05px">2.0</text>
<text transform="translate(331.73,239.50) scale(0.95,1)" font-size="5.6" text-anchor="middle" style="stroke-width:0.05px">2.4</text>
<text transform="translate(341.35,239.50) scale(0.95,1)" font-size="5.6" text-anchor="middle" style="stroke-width:0.05px">2.8</text>
<text transform="translate(350.98,239.50) scale(0.95,1)" font-size="5.6" text-anchor="middle" style="stroke-width:0.05px">3.2</text>
<text transform="translate(360.60,239.50) scale(0.95,1)" font-size="5.6" text-anchor="middle" style="stroke-width:0.05px">3.6</text>
<text transform="translate(310.70,230.00) scale(0.95,1)" font-size="5.6" text-anchor="end" style="stroke-width:0.05px">0</text>
<text transform="translate(310.70,216.22) scale(0.95,1)" font-size="5.6" text-anchor="end" style="stroke-width:0.05px">10</text>
<text transform="translate(310.70,202.45) scale(0.95,1)" font-size="5.6" text-anchor="end" style="stroke-width:0.05px">20</text>
<text transform="translate(310.70,188.68) scale(0.95,1)" font-size="5.6" text-anchor="end" style="stroke-width:0.05px">30</text>
<text transform="translate(310.70,174.90) scale(0.95,1)" font-size="5.6" text-anchor="end" style="stroke-width:0.05px">40</text>
<text x="340.10" y="249.80" font-size="6.6" text-anchor="middle">K-O Distance (Å)</text>
<text x="323.2" y="182.4" font-size="9.0">(l)</text>
<text x="327.9" y="190.70" font-size="6.15" style="stroke-width:0.05px"><tspan font-size="6.15" dy="0.00">K(OH)(H</tspan><tspan font-size="4.00" dy="1.72">2</tspan><tspan font-size="6.15" dy="-1.72">O)</tspan><tspan font-size="4.00" dy="1.72">6</tspan></text>
<text x="344.3" y="200.6" font-size="5.3">DFT</text>
<text x="344.8" y="208.2" font-size="5.3">ReaxFF</text>
</g>
</svg>
</body></html>
